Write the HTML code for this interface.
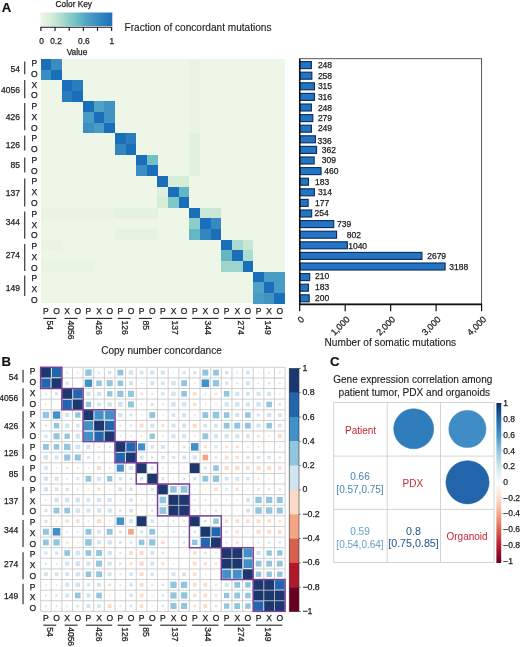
<!DOCTYPE html>
<html><head><meta charset="utf-8"><title>Figure</title>
<style>html,body{margin:0;padding:0;background:#fff}svg{display:block;font-family:'Liberation Sans', sans-serif}</style>
</head><body>
<svg width="520" height="647" viewBox="0 0 520 647" style="font-family:'Liberation Sans',sans-serif">
<rect width="520" height="647" fill="#fff"/>
<g shape-rendering="crispEdges">
<rect x="40.6" y="59.0" width="244.49" height="244.49" fill="#eef6e8"/>
<rect x="40.55" y="58.95" width="10.73" height="10.73" fill="#1a6fba"/>
<rect x="51.18" y="58.95" width="10.73" height="10.73" fill="#3a8cc1"/>
<rect x="189.37" y="58.95" width="10.73" height="10.73" fill="#e9f4e5"/>
<rect x="40.55" y="69.58" width="10.73" height="10.73" fill="#3a8cc1"/>
<rect x="51.18" y="69.58" width="10.73" height="10.73" fill="#1a6fba"/>
<rect x="189.37" y="69.58" width="10.73" height="10.73" fill="#e9f4e5"/>
<rect x="61.81" y="80.21" width="10.73" height="10.73" fill="#1a6fba"/>
<rect x="72.44" y="80.21" width="10.73" height="10.73" fill="#2b7ebc"/>
<rect x="189.37" y="80.21" width="10.73" height="10.73" fill="#e9f4e5"/>
<rect x="61.81" y="90.84" width="10.73" height="10.73" fill="#287bbc"/>
<rect x="72.44" y="90.84" width="10.73" height="10.73" fill="#1a6fba"/>
<rect x="189.37" y="90.84" width="10.73" height="10.73" fill="#e9f4e5"/>
<rect x="83.07" y="101.47" width="10.73" height="10.73" fill="#1a6fba"/>
<rect x="93.70" y="101.47" width="10.73" height="10.73" fill="#4fa2c6"/>
<rect x="104.33" y="101.47" width="10.73" height="10.73" fill="#4193c3"/>
<rect x="189.37" y="101.47" width="10.73" height="10.73" fill="#e9f4e5"/>
<rect x="83.07" y="112.10" width="10.73" height="10.73" fill="#489bc4"/>
<rect x="93.70" y="112.10" width="10.73" height="10.73" fill="#1a6fba"/>
<rect x="104.33" y="112.10" width="10.73" height="10.73" fill="#4193c3"/>
<rect x="189.37" y="112.10" width="10.73" height="10.73" fill="#e9f4e5"/>
<rect x="83.07" y="122.73" width="10.73" height="10.73" fill="#3d8fc2"/>
<rect x="93.70" y="122.73" width="10.73" height="10.73" fill="#489bc4"/>
<rect x="104.33" y="122.73" width="10.73" height="10.73" fill="#1a6fba"/>
<rect x="189.37" y="122.73" width="10.73" height="10.73" fill="#e9f4e5"/>
<rect x="114.96" y="133.36" width="10.73" height="10.73" fill="#1a6fba"/>
<rect x="125.59" y="133.36" width="10.73" height="10.73" fill="#2b7ebc"/>
<rect x="189.37" y="133.36" width="10.73" height="10.73" fill="#e1f1df"/>
<rect x="114.96" y="143.99" width="10.73" height="10.73" fill="#3385be"/>
<rect x="125.59" y="143.99" width="10.73" height="10.73" fill="#1a6fba"/>
<rect x="189.37" y="143.99" width="10.73" height="10.73" fill="#e1f1df"/>
<rect x="136.22" y="154.62" width="10.73" height="10.73" fill="#1a6fba"/>
<rect x="146.85" y="154.62" width="10.73" height="10.73" fill="#70c0c5"/>
<rect x="189.37" y="154.62" width="10.73" height="10.73" fill="#e1f1df"/>
<rect x="136.22" y="165.25" width="10.73" height="10.73" fill="#3a8cc1"/>
<rect x="146.85" y="165.25" width="10.73" height="10.73" fill="#1a6fba"/>
<rect x="189.37" y="165.25" width="10.73" height="10.73" fill="#e1f1df"/>
<rect x="157.48" y="175.88" width="10.73" height="10.73" fill="#1a6fba"/>
<rect x="168.11" y="175.88" width="10.73" height="10.73" fill="#d6edd8"/>
<rect x="178.74" y="175.88" width="10.73" height="10.73" fill="#d6edd8"/>
<rect x="157.48" y="186.51" width="10.73" height="10.73" fill="#def0dd"/>
<rect x="168.11" y="186.51" width="10.73" height="10.73" fill="#1a6fba"/>
<rect x="178.74" y="186.51" width="10.73" height="10.73" fill="#65b6c5"/>
<rect x="157.48" y="197.14" width="10.73" height="10.73" fill="#d6edd8"/>
<rect x="168.11" y="197.14" width="10.73" height="10.73" fill="#7fc7c8"/>
<rect x="178.74" y="197.14" width="10.73" height="10.73" fill="#1a6fba"/>
<rect x="40.55" y="207.77" width="10.73" height="10.73" fill="#e9f4e5"/>
<rect x="51.18" y="207.77" width="10.73" height="10.73" fill="#e9f4e5"/>
<rect x="61.81" y="207.77" width="10.73" height="10.73" fill="#e9f4e5"/>
<rect x="72.44" y="207.77" width="10.73" height="10.73" fill="#e9f4e5"/>
<rect x="83.07" y="207.77" width="10.73" height="10.73" fill="#e9f4e5"/>
<rect x="93.70" y="207.77" width="10.73" height="10.73" fill="#e9f4e5"/>
<rect x="104.33" y="207.77" width="10.73" height="10.73" fill="#e9f4e5"/>
<rect x="114.96" y="207.77" width="10.73" height="10.73" fill="#e3f2e1"/>
<rect x="125.59" y="207.77" width="10.73" height="10.73" fill="#e3f2e1"/>
<rect x="136.22" y="207.77" width="10.73" height="10.73" fill="#e3f2e1"/>
<rect x="146.85" y="207.77" width="10.73" height="10.73" fill="#e3f2e1"/>
<rect x="189.37" y="207.77" width="10.73" height="10.73" fill="#1a6fba"/>
<rect x="200.00" y="207.77" width="10.73" height="10.73" fill="#c8e7d5"/>
<rect x="210.63" y="207.77" width="10.73" height="10.73" fill="#c8e7d5"/>
<rect x="189.37" y="218.40" width="10.73" height="10.73" fill="#8ececa"/>
<rect x="200.00" y="218.40" width="10.73" height="10.73" fill="#1a6fba"/>
<rect x="210.63" y="218.40" width="10.73" height="10.73" fill="#3789c0"/>
<rect x="114.96" y="229.03" width="10.73" height="10.73" fill="#e6f3e3"/>
<rect x="125.59" y="229.03" width="10.73" height="10.73" fill="#e6f3e3"/>
<rect x="136.22" y="229.03" width="10.73" height="10.73" fill="#e6f3e3"/>
<rect x="146.85" y="229.03" width="10.73" height="10.73" fill="#e6f3e3"/>
<rect x="189.37" y="229.03" width="10.73" height="10.73" fill="#65b6c5"/>
<rect x="200.00" y="229.03" width="10.73" height="10.73" fill="#3385be"/>
<rect x="210.63" y="229.03" width="10.73" height="10.73" fill="#1a6fba"/>
<rect x="40.55" y="239.66" width="10.73" height="10.73" fill="#e9f4e5"/>
<rect x="51.18" y="239.66" width="10.73" height="10.73" fill="#e9f4e5"/>
<rect x="221.26" y="239.66" width="10.73" height="10.73" fill="#1a6fba"/>
<rect x="231.89" y="239.66" width="10.73" height="10.73" fill="#acdccf"/>
<rect x="242.52" y="239.66" width="10.73" height="10.73" fill="#c8e7d5"/>
<rect x="221.26" y="250.29" width="10.73" height="10.73" fill="#65b6c5"/>
<rect x="231.89" y="250.29" width="10.73" height="10.73" fill="#1a6fba"/>
<rect x="242.52" y="250.29" width="10.73" height="10.73" fill="#acdccf"/>
<rect x="40.55" y="260.92" width="10.73" height="10.73" fill="#e8f4e4"/>
<rect x="51.18" y="260.92" width="10.73" height="10.73" fill="#e8f4e4"/>
<rect x="61.81" y="260.92" width="10.73" height="10.73" fill="#e8f4e4"/>
<rect x="72.44" y="260.92" width="10.73" height="10.73" fill="#e8f4e4"/>
<rect x="83.07" y="260.92" width="10.73" height="10.73" fill="#e8f4e4"/>
<rect x="221.26" y="260.92" width="10.73" height="10.73" fill="#9dd5cc"/>
<rect x="231.89" y="260.92" width="10.73" height="10.73" fill="#9dd5cc"/>
<rect x="242.52" y="260.92" width="10.73" height="10.73" fill="#1a6fba"/>
<rect x="253.15" y="271.55" width="10.73" height="10.73" fill="#1a6fba"/>
<rect x="263.78" y="271.55" width="10.73" height="10.73" fill="#489bc4"/>
<rect x="274.41" y="271.55" width="10.73" height="10.73" fill="#489bc4"/>
<rect x="253.15" y="282.18" width="10.73" height="10.73" fill="#4fa2c6"/>
<rect x="263.78" y="282.18" width="10.73" height="10.73" fill="#1a6fba"/>
<rect x="274.41" y="282.18" width="10.73" height="10.73" fill="#489bc4"/>
<rect x="253.15" y="292.81" width="10.73" height="10.73" fill="#489bc4"/>
<rect x="263.78" y="292.81" width="10.73" height="10.73" fill="#4193c3"/>
<rect x="274.41" y="292.81" width="10.73" height="10.73" fill="#1a6fba"/>
</g>
<text x="19.90" y="72.00" font-size="8.5" text-anchor="end" fill="#1c1c1c" stroke="#1c1c1c" stroke-width="0.25">54</text>
<line x1="24.75" x2="24.75" y1="61.40" y2="74.20" stroke="#222" stroke-width="1.1"/>
<text x="34.40" y="66.00" font-size="8.5" text-anchor="middle" fill="#1c1c1c" stroke="#1c1c1c" stroke-width="0.25">P</text>
<text x="34.40" y="77.00" font-size="8.5" text-anchor="middle" fill="#1c1c1c" stroke="#1c1c1c" stroke-width="0.25">O</text>
<text x="19.90" y="93.00" font-size="8.5" text-anchor="end" fill="#1c1c1c" stroke="#1c1c1c" stroke-width="0.25">4056</text>
<line x1="24.75" x2="24.75" y1="80.00" y2="98.20" stroke="#222" stroke-width="1.1"/>
<text x="34.40" y="88.00" font-size="8.5" text-anchor="middle" fill="#1c1c1c" stroke="#1c1c1c" stroke-width="0.25">X</text>
<text x="34.40" y="98.00" font-size="8.5" text-anchor="middle" fill="#1c1c1c" stroke="#1c1c1c" stroke-width="0.25">O</text>
<text x="19.90" y="120.00" font-size="8.5" text-anchor="end" fill="#1c1c1c" stroke="#1c1c1c" stroke-width="0.25">426</text>
<line x1="24.75" x2="24.75" y1="103.00" y2="130.30" stroke="#222" stroke-width="1.1"/>
<text x="34.40" y="109.00" font-size="8.5" text-anchor="middle" fill="#1c1c1c" stroke="#1c1c1c" stroke-width="0.25">P</text>
<text x="34.40" y="120.00" font-size="8.5" text-anchor="middle" fill="#1c1c1c" stroke="#1c1c1c" stroke-width="0.25">X</text>
<text x="34.40" y="131.00" font-size="8.5" text-anchor="middle" fill="#1c1c1c" stroke="#1c1c1c" stroke-width="0.25">O</text>
<text x="19.90" y="148.00" font-size="8.5" text-anchor="end" fill="#1c1c1c" stroke="#1c1c1c" stroke-width="0.25">126</text>
<line x1="24.75" x2="24.75" y1="135.50" y2="150.40" stroke="#222" stroke-width="1.1"/>
<text x="34.40" y="141.00" font-size="8.5" text-anchor="middle" fill="#1c1c1c" stroke="#1c1c1c" stroke-width="0.25">P</text>
<text x="34.40" y="152.00" font-size="8.5" text-anchor="middle" fill="#1c1c1c" stroke="#1c1c1c" stroke-width="0.25">O</text>
<text x="19.90" y="168.00" font-size="8.5" text-anchor="end" fill="#1c1c1c" stroke="#1c1c1c" stroke-width="0.25">85</text>
<line x1="24.75" x2="24.75" y1="157.40" y2="172.50" stroke="#222" stroke-width="1.1"/>
<text x="34.40" y="163.00" font-size="8.5" text-anchor="middle" fill="#1c1c1c" stroke="#1c1c1c" stroke-width="0.25">P</text>
<text x="34.40" y="174.00" font-size="8.5" text-anchor="middle" fill="#1c1c1c" stroke="#1c1c1c" stroke-width="0.25">O</text>
<text x="19.90" y="196.00" font-size="8.5" text-anchor="end" fill="#1c1c1c" stroke="#1c1c1c" stroke-width="0.25">137</text>
<line x1="24.75" x2="24.75" y1="178.50" y2="206.60" stroke="#222" stroke-width="1.1"/>
<text x="34.40" y="184.00" font-size="8.5" text-anchor="middle" fill="#1c1c1c" stroke="#1c1c1c" stroke-width="0.25">P</text>
<text x="34.40" y="195.00" font-size="8.5" text-anchor="middle" fill="#1c1c1c" stroke="#1c1c1c" stroke-width="0.25">X</text>
<text x="34.40" y="206.00" font-size="8.5" text-anchor="middle" fill="#1c1c1c" stroke="#1c1c1c" stroke-width="0.25">O</text>
<text x="19.90" y="225.00" font-size="8.5" text-anchor="end" fill="#1c1c1c" stroke="#1c1c1c" stroke-width="0.25">344</text>
<line x1="24.75" x2="24.75" y1="211.60" y2="238.80" stroke="#222" stroke-width="1.1"/>
<text x="34.40" y="217.00" font-size="8.5" text-anchor="middle" fill="#1c1c1c" stroke="#1c1c1c" stroke-width="0.25">P</text>
<text x="34.40" y="228.00" font-size="8.5" text-anchor="middle" fill="#1c1c1c" stroke="#1c1c1c" stroke-width="0.25">X</text>
<text x="34.40" y="238.00" font-size="8.5" text-anchor="middle" fill="#1c1c1c" stroke="#1c1c1c" stroke-width="0.25">O</text>
<text x="19.90" y="258.00" font-size="8.5" text-anchor="end" fill="#1c1c1c" stroke="#1c1c1c" stroke-width="0.25">274</text>
<line x1="24.75" x2="24.75" y1="244.00" y2="270.90" stroke="#222" stroke-width="1.1"/>
<text x="34.40" y="249.00" font-size="8.5" text-anchor="middle" fill="#1c1c1c" stroke="#1c1c1c" stroke-width="0.25">P</text>
<text x="34.40" y="260.00" font-size="8.5" text-anchor="middle" fill="#1c1c1c" stroke="#1c1c1c" stroke-width="0.25">X</text>
<text x="34.40" y="271.00" font-size="8.5" text-anchor="middle" fill="#1c1c1c" stroke="#1c1c1c" stroke-width="0.25">O</text>
<text x="19.90" y="291.00" font-size="8.5" text-anchor="end" fill="#1c1c1c" stroke="#1c1c1c" stroke-width="0.25">149</text>
<line x1="24.75" x2="24.75" y1="275.50" y2="296.00" stroke="#222" stroke-width="1.1"/>
<text x="34.40" y="281.00" font-size="8.5" text-anchor="middle" fill="#1c1c1c" stroke="#1c1c1c" stroke-width="0.25">P</text>
<text x="34.40" y="292.00" font-size="8.5" text-anchor="middle" fill="#1c1c1c" stroke="#1c1c1c" stroke-width="0.25">X</text>
<text x="34.40" y="303.00" font-size="8.5" text-anchor="middle" fill="#1c1c1c" stroke="#1c1c1c" stroke-width="0.25">O</text>
<text x="45.91" y="314.00" font-size="8.5" text-anchor="middle" fill="#1c1c1c" stroke="#1c1c1c" stroke-width="0.25">P</text>
<text x="56.55" y="314.00" font-size="8.5" text-anchor="middle" fill="#1c1c1c" stroke="#1c1c1c" stroke-width="0.25">O</text>
<line x1="43.31" x2="56.25" y1="318.4" y2="318.4" stroke="#222" stroke-width="1.1"/>
<text x="46.83" y="320.60" font-size="8.5" fill="#1c1c1c" stroke="#1c1c1c" stroke-width="0.25" transform="rotate(90 46.83 320.60)">54</text>
<text x="67.18" y="314.00" font-size="8.5" text-anchor="middle" fill="#1c1c1c" stroke="#1c1c1c" stroke-width="0.25">X</text>
<text x="77.81" y="314.00" font-size="8.5" text-anchor="middle" fill="#1c1c1c" stroke="#1c1c1c" stroke-width="0.25">O</text>
<line x1="64.58" x2="77.51" y1="318.4" y2="318.4" stroke="#222" stroke-width="1.1"/>
<text x="67.92" y="320.60" font-size="8.5" fill="#1c1c1c" stroke="#1c1c1c" stroke-width="0.25" transform="rotate(90 67.92 320.60)">4056</text>
<text x="88.44" y="314.00" font-size="8.5" text-anchor="middle" fill="#1c1c1c" stroke="#1c1c1c" stroke-width="0.25">P</text>
<text x="99.06" y="314.00" font-size="8.5" text-anchor="middle" fill="#1c1c1c" stroke="#1c1c1c" stroke-width="0.25">X</text>
<text x="109.69" y="314.00" font-size="8.5" text-anchor="middle" fill="#1c1c1c" stroke="#1c1c1c" stroke-width="0.25">O</text>
<line x1="85.84" x2="112.19" y1="318.4" y2="318.4" stroke="#222" stroke-width="1.1"/>
<text x="96.42" y="320.60" font-size="8.5" fill="#1c1c1c" stroke="#1c1c1c" stroke-width="0.25" transform="rotate(90 96.42 320.60)">426</text>
<text x="120.33" y="314.00" font-size="8.5" text-anchor="middle" fill="#1c1c1c" stroke="#1c1c1c" stroke-width="0.25">P</text>
<text x="130.96" y="314.00" font-size="8.5" text-anchor="middle" fill="#1c1c1c" stroke="#1c1c1c" stroke-width="0.25">O</text>
<line x1="117.73" x2="130.66" y1="318.4" y2="318.4" stroke="#222" stroke-width="1.1"/>
<text x="121.62" y="320.60" font-size="8.5" fill="#1c1c1c" stroke="#1c1c1c" stroke-width="0.25" transform="rotate(90 121.62 320.60)">126</text>
<text x="141.59" y="314.00" font-size="8.5" text-anchor="middle" fill="#1c1c1c" stroke="#1c1c1c" stroke-width="0.25">P</text>
<text x="152.22" y="314.00" font-size="8.5" text-anchor="middle" fill="#1c1c1c" stroke="#1c1c1c" stroke-width="0.25">O</text>
<line x1="138.99" x2="151.91" y1="318.4" y2="318.4" stroke="#222" stroke-width="1.1"/>
<text x="142.72" y="320.60" font-size="8.5" fill="#1c1c1c" stroke="#1c1c1c" stroke-width="0.25" transform="rotate(90 142.72 320.60)">85</text>
<text x="162.84" y="314.00" font-size="8.5" text-anchor="middle" fill="#1c1c1c" stroke="#1c1c1c" stroke-width="0.25">P</text>
<text x="173.47" y="314.00" font-size="8.5" text-anchor="middle" fill="#1c1c1c" stroke="#1c1c1c" stroke-width="0.25">X</text>
<text x="184.11" y="314.00" font-size="8.5" text-anchor="middle" fill="#1c1c1c" stroke="#1c1c1c" stroke-width="0.25">O</text>
<line x1="160.25" x2="186.61" y1="318.4" y2="318.4" stroke="#222" stroke-width="1.1"/>
<text x="171.62" y="320.60" font-size="8.5" fill="#1c1c1c" stroke="#1c1c1c" stroke-width="0.25" transform="rotate(90 171.62 320.60)">137</text>
<text x="194.74" y="314.00" font-size="8.5" text-anchor="middle" fill="#1c1c1c" stroke="#1c1c1c" stroke-width="0.25">P</text>
<text x="205.37" y="314.00" font-size="8.5" text-anchor="middle" fill="#1c1c1c" stroke="#1c1c1c" stroke-width="0.25">X</text>
<text x="216.00" y="314.00" font-size="8.5" text-anchor="middle" fill="#1c1c1c" stroke="#1c1c1c" stroke-width="0.25">O</text>
<line x1="192.14" x2="218.50" y1="318.4" y2="318.4" stroke="#222" stroke-width="1.1"/>
<text x="205.03" y="320.60" font-size="8.5" fill="#1c1c1c" stroke="#1c1c1c" stroke-width="0.25" transform="rotate(90 205.03 320.60)">344</text>
<text x="226.62" y="314.00" font-size="8.5" text-anchor="middle" fill="#1c1c1c" stroke="#1c1c1c" stroke-width="0.25">P</text>
<text x="237.25" y="314.00" font-size="8.5" text-anchor="middle" fill="#1c1c1c" stroke="#1c1c1c" stroke-width="0.25">X</text>
<text x="247.89" y="314.00" font-size="8.5" text-anchor="middle" fill="#1c1c1c" stroke="#1c1c1c" stroke-width="0.25">O</text>
<line x1="224.03" x2="250.39" y1="318.4" y2="318.4" stroke="#222" stroke-width="1.1"/>
<text x="237.62" y="320.60" font-size="8.5" fill="#1c1c1c" stroke="#1c1c1c" stroke-width="0.25" transform="rotate(90 237.62 320.60)">274</text>
<text x="258.52" y="314.00" font-size="8.5" text-anchor="middle" fill="#1c1c1c" stroke="#1c1c1c" stroke-width="0.25">P</text>
<text x="269.15" y="314.00" font-size="8.5" text-anchor="middle" fill="#1c1c1c" stroke="#1c1c1c" stroke-width="0.25">X</text>
<text x="279.78" y="314.00" font-size="8.5" text-anchor="middle" fill="#1c1c1c" stroke="#1c1c1c" stroke-width="0.25">O</text>
<line x1="255.92" x2="282.28" y1="318.4" y2="318.4" stroke="#222" stroke-width="1.1"/>
<text x="265.43" y="320.60" font-size="8.5" fill="#1c1c1c" stroke="#1c1c1c" stroke-width="0.25" transform="rotate(90 265.43 320.60)">149</text>
<text x="1.80" y="12.00" font-size="13.2" font-weight="bold" fill="#111" stroke="#111" stroke-width="0.15">A</text>
<text x="124.50" y="31.00" font-size="10.1" fill="#1c1c1c" stroke="#1c1c1c" stroke-width="0.12">Fraction of concordant mutations</text>
<text x="101.20" y="354.00" font-size="10.05" fill="#1c1c1c" stroke="#1c1c1c" stroke-width="0.12">Copy number concordance</text>
<defs><linearGradient id="gk" x1="0" x2="1" y1="0" y2="0">
<stop offset="0" stop-color="#eef6e8"/>
<stop offset="0.15" stop-color="#d6edd8"/>
<stop offset="0.3" stop-color="#acdccf"/>
<stop offset="0.5" stop-color="#70c0c5"/>
<stop offset="0.65" stop-color="#4fa2c6"/>
<stop offset="0.8" stop-color="#3a8cc1"/>
<stop offset="0.9" stop-color="#2b7ebc"/>
<stop offset="1.0" stop-color="#1a6fba"/>
</linearGradient>
<linearGradient id="gc" x1="0" x2="0" y1="0" y2="1">
<stop offset="0.0" stop-color="#053061"/>
<stop offset="0.1" stop-color="#2166ac"/>
<stop offset="0.2" stop-color="#4393c3"/>
<stop offset="0.3" stop-color="#92c5de"/>
<stop offset="0.4" stop-color="#d1e5f0"/>
<stop offset="0.5" stop-color="#ffffff"/>
<stop offset="0.6" stop-color="#fddbc7"/>
<stop offset="0.7" stop-color="#f4a582"/>
<stop offset="0.8" stop-color="#d6604d"/>
<stop offset="0.9" stop-color="#b2182b"/>
<stop offset="1.0" stop-color="#67001f"/>
</linearGradient></defs>
<rect x="40.3" y="12.5" width="72" height="13.6" fill="url(#gk)"/>
<line x1="40.4" x2="112.2" y1="27.2" y2="27.2" stroke="#111" stroke-width="1.1"/>
<line x1="40.90" x2="40.90" y1="27.2" y2="30.9" stroke="#111" stroke-width="1.1"/>
<line x1="55.05" x2="55.05" y1="27.2" y2="30.9" stroke="#111" stroke-width="1.1"/>
<line x1="69.20" x2="69.20" y1="27.2" y2="30.9" stroke="#111" stroke-width="1.1"/>
<line x1="83.35" x2="83.35" y1="27.2" y2="30.9" stroke="#111" stroke-width="1.1"/>
<line x1="97.50" x2="97.50" y1="27.2" y2="30.9" stroke="#111" stroke-width="1.1"/>
<line x1="111.65" x2="111.65" y1="27.2" y2="30.9" stroke="#111" stroke-width="1.1"/>
<text x="73.80" y="7.00" font-size="8.3" text-anchor="middle" fill="#1c1c1c" stroke="#1c1c1c" stroke-width="0.25">Color Key</text>
<text x="41.50" y="44.00" font-size="8.3" text-anchor="middle" fill="#1c1c1c" stroke="#1c1c1c" stroke-width="0.25">0</text>
<text x="56.00" y="44.00" font-size="8.3" text-anchor="middle" fill="#1c1c1c" stroke="#1c1c1c" stroke-width="0.25">0.2</text>
<text x="83.80" y="44.00" font-size="8.3" text-anchor="middle" fill="#1c1c1c" stroke="#1c1c1c" stroke-width="0.25">0.6</text>
<text x="111.70" y="44.00" font-size="8.3" text-anchor="middle" fill="#1c1c1c" stroke="#1c1c1c" stroke-width="0.25">1</text>
<text x="77.00" y="55.00" font-size="8.3" text-anchor="middle" fill="#1c1c1c" stroke="#1c1c1c" stroke-width="0.25">Value</text>
<rect x="299.7" y="58.7" width="181.90" height="245.60" fill="#fff" stroke="#444" stroke-width="0.9"/>
<rect x="300.10" y="61.60" width="11.28" height="7.0" fill="#2076c4" stroke="#142e5c" stroke-width="1.15"/>
<rect x="300.10" y="72.20" width="11.73" height="7.0" fill="#2076c4" stroke="#142e5c" stroke-width="1.15"/>
<rect x="300.10" y="82.80" width="14.32" height="7.0" fill="#2076c4" stroke="#142e5c" stroke-width="1.15"/>
<rect x="300.10" y="93.40" width="14.37" height="7.0" fill="#2076c4" stroke="#142e5c" stroke-width="1.15"/>
<rect x="300.10" y="104.00" width="11.28" height="7.0" fill="#2076c4" stroke="#142e5c" stroke-width="1.15"/>
<rect x="300.10" y="114.60" width="12.69" height="7.0" fill="#2076c4" stroke="#142e5c" stroke-width="1.15"/>
<rect x="300.10" y="125.20" width="11.32" height="7.0" fill="#2076c4" stroke="#142e5c" stroke-width="1.15"/>
<rect x="300.10" y="135.80" width="15.28" height="7.0" fill="#2076c4" stroke="#142e5c" stroke-width="1.15"/>
<rect x="300.10" y="146.40" width="16.46" height="7.0" fill="#2076c4" stroke="#142e5c" stroke-width="1.15"/>
<rect x="300.10" y="157.00" width="14.05" height="7.0" fill="#2076c4" stroke="#142e5c" stroke-width="1.15"/>
<rect x="300.10" y="167.60" width="20.92" height="7.0" fill="#2076c4" stroke="#142e5c" stroke-width="1.15"/>
<rect x="300.10" y="178.20" width="8.32" height="7.0" fill="#2076c4" stroke="#142e5c" stroke-width="1.15"/>
<rect x="300.10" y="188.80" width="14.28" height="7.0" fill="#2076c4" stroke="#142e5c" stroke-width="1.15"/>
<rect x="300.10" y="199.40" width="8.05" height="7.0" fill="#2076c4" stroke="#142e5c" stroke-width="1.15"/>
<rect x="300.10" y="210.00" width="11.55" height="7.0" fill="#2076c4" stroke="#142e5c" stroke-width="1.15"/>
<rect x="300.10" y="220.60" width="33.61" height="7.0" fill="#2076c4" stroke="#142e5c" stroke-width="1.15"/>
<rect x="300.10" y="231.20" width="36.47" height="7.0" fill="#2076c4" stroke="#142e5c" stroke-width="1.15"/>
<rect x="300.10" y="241.80" width="47.29" height="7.0" fill="#2076c4" stroke="#142e5c" stroke-width="1.15"/>
<rect x="300.10" y="252.40" width="121.83" height="7.0" fill="#2076c4" stroke="#142e5c" stroke-width="1.15"/>
<rect x="300.10" y="263.00" width="144.97" height="7.0" fill="#2076c4" stroke="#142e5c" stroke-width="1.15"/>
<rect x="300.10" y="273.60" width="9.55" height="7.0" fill="#2076c4" stroke="#142e5c" stroke-width="1.15"/>
<rect x="300.10" y="284.20" width="8.32" height="7.0" fill="#2076c4" stroke="#142e5c" stroke-width="1.15"/>
<rect x="300.10" y="294.80" width="9.10" height="7.0" fill="#2076c4" stroke="#142e5c" stroke-width="1.15"/>
<text x="317.90" y="68.00" font-size="8.5" fill="#1c1c1c" stroke="#1c1c1c" stroke-width="0.25">248</text>
<text x="317.90" y="79.00" font-size="8.5" fill="#1c1c1c" stroke="#1c1c1c" stroke-width="0.25">258</text>
<text x="317.90" y="89.00" font-size="8.5" fill="#1c1c1c" stroke="#1c1c1c" stroke-width="0.25">315</text>
<text x="317.90" y="100.00" font-size="8.5" fill="#1c1c1c" stroke="#1c1c1c" stroke-width="0.25">316</text>
<text x="317.90" y="111.00" font-size="8.5" fill="#1c1c1c" stroke="#1c1c1c" stroke-width="0.25">248</text>
<text x="317.90" y="121.00" font-size="8.5" fill="#1c1c1c" stroke="#1c1c1c" stroke-width="0.25">279</text>
<text x="317.90" y="131.00" font-size="8.5" fill="#1c1c1c" stroke="#1c1c1c" stroke-width="0.25">249</text>
<text x="317.50" y="144.00" font-size="8.5" fill="#1c1c1c" stroke="#1c1c1c" stroke-width="0.25">336</text>
<text x="321.70" y="153.00" font-size="8.5" fill="#1c1c1c" stroke="#1c1c1c" stroke-width="0.25">362</text>
<text x="321.70" y="163.00" font-size="8.5" fill="#1c1c1c" stroke="#1c1c1c" stroke-width="0.25">309</text>
<text x="324.20" y="174.00" font-size="8.5" fill="#1c1c1c" stroke="#1c1c1c" stroke-width="0.25">460</text>
<text x="315.00" y="185.00" font-size="8.5" fill="#1c1c1c" stroke="#1c1c1c" stroke-width="0.25">183</text>
<text x="317.90" y="195.00" font-size="8.5" fill="#1c1c1c" stroke="#1c1c1c" stroke-width="0.25">314</text>
<text x="315.00" y="206.00" font-size="8.5" fill="#1c1c1c" stroke="#1c1c1c" stroke-width="0.25">177</text>
<text x="314.60" y="216.00" font-size="8.5" fill="#1c1c1c" stroke="#1c1c1c" stroke-width="0.25">254</text>
<text x="337.10" y="227.00" font-size="8.5" fill="#1c1c1c" stroke="#1c1c1c" stroke-width="0.25">739</text>
<text x="346.80" y="238.00" font-size="8.5" fill="#1c1c1c" stroke="#1c1c1c" stroke-width="0.25">802</text>
<text x="348.20" y="249.00" font-size="8.5" fill="#1c1c1c" stroke="#1c1c1c" stroke-width="0.25">1040</text>
<text x="427.20" y="259.00" font-size="8.5" fill="#1c1c1c" stroke="#1c1c1c" stroke-width="0.25">2679</text>
<text x="449.30" y="270.00" font-size="8.5" fill="#1c1c1c" stroke="#1c1c1c" stroke-width="0.25">3188</text>
<text x="315.00" y="279.00" font-size="8.5" fill="#1c1c1c" stroke="#1c1c1c" stroke-width="0.25">210</text>
<text x="315.00" y="290.00" font-size="8.5" fill="#1c1c1c" stroke="#1c1c1c" stroke-width="0.25">183</text>
<text x="315.00" y="301.00" font-size="8.5" fill="#1c1c1c" stroke="#1c1c1c" stroke-width="0.25">200</text>
<line x1="299.7" x2="299.7" y1="58.7" y2="305.2" stroke="#111" stroke-width="1.5"/>
<line x1="299.0" x2="482.1" y1="304.3" y2="304.3" stroke="#111" stroke-width="1.8"/>
<line x1="299.70" x2="299.70" y1="304.3" y2="311.3" stroke="#111" stroke-width="1.2"/>
<text x="304.90" y="320.00" font-size="9.0" text-anchor="end" fill="#1c1c1c" stroke="#1c1c1c" stroke-width="0.25" transform="rotate(-45 304.90 320.00)">0</text>
<line x1="345.18" x2="345.18" y1="304.3" y2="311.3" stroke="#111" stroke-width="1.2"/>
<text x="350.38" y="320.00" font-size="9.0" text-anchor="end" fill="#1c1c1c" stroke="#1c1c1c" stroke-width="0.25" transform="rotate(-45 350.38 320.00)">1,000</text>
<line x1="390.65" x2="390.65" y1="304.3" y2="311.3" stroke="#111" stroke-width="1.2"/>
<text x="395.85" y="320.00" font-size="9.0" text-anchor="end" fill="#1c1c1c" stroke="#1c1c1c" stroke-width="0.25" transform="rotate(-45 395.85 320.00)">2,000</text>
<line x1="436.12" x2="436.12" y1="304.3" y2="311.3" stroke="#111" stroke-width="1.2"/>
<text x="441.32" y="320.00" font-size="9.0" text-anchor="end" fill="#1c1c1c" stroke="#1c1c1c" stroke-width="0.25" transform="rotate(-45 441.32 320.00)">3,000</text>
<line x1="481.60" x2="481.60" y1="304.3" y2="311.3" stroke="#111" stroke-width="1.2"/>
<text x="486.80" y="320.00" font-size="9.0" text-anchor="end" fill="#1c1c1c" stroke="#1c1c1c" stroke-width="0.25" transform="rotate(-45 486.80 320.00)">4,000</text>
<text x="324.50" y="346.00" font-size="10.15" fill="#1c1c1c" stroke="#1c1c1c" stroke-width="0.12">Number of somatic mutations</text>
<text x="1.40" y="366.00" font-size="13.2" font-weight="bold" fill="#111" stroke="#111" stroke-width="0.15">B</text>
<rect x="40.6" y="367.3" width="244.49" height="244.08" fill="#fff"/>
<path d="M40.60 367.3V611.38M40.6 367.30H285.09M51.23 367.3V611.38M40.6 377.91H285.09M61.86 367.3V611.38M40.6 388.52H285.09M72.49 367.3V611.38M40.6 399.14H285.09M83.12 367.3V611.38M40.6 409.75H285.09M93.75 367.3V611.38M40.6 420.36H285.09M104.38 367.3V611.38M40.6 430.97H285.09M115.01 367.3V611.38M40.6 441.58H285.09M125.64 367.3V611.38M40.6 452.20H285.09M136.27 367.3V611.38M40.6 462.81H285.09M146.90 367.3V611.38M40.6 473.42H285.09M157.53 367.3V611.38M40.6 484.03H285.09M168.16 367.3V611.38M40.6 494.64H285.09M178.79 367.3V611.38M40.6 505.26H285.09M189.42 367.3V611.38M40.6 515.87H285.09M200.05 367.3V611.38M40.6 526.48H285.09M210.68 367.3V611.38M40.6 537.09H285.09M221.31 367.3V611.38M40.6 547.70H285.09M231.94 367.3V611.38M40.6 558.32H285.09M242.57 367.3V611.38M40.6 568.93H285.09M253.20 367.3V611.38M40.6 579.54H285.09M263.83 367.3V611.38M40.6 590.15H285.09M274.46 367.3V611.38M40.6 600.76H285.09M285.09 367.3V611.38M40.6 611.38H285.09" stroke="#c2bfc2" stroke-width="0.75" fill="none"/>
<rect x="40.97" y="367.66" width="9.89" height="9.89" fill="#1c386e"/>
<rect x="51.92" y="367.98" width="9.25" height="9.25" fill="#2166ae"/>
<rect x="66.25" y="371.69" width="1.84" height="1.84" fill="#d1e5f0"/>
<rect x="76.88" y="371.69" width="1.84" height="1.84" fill="#fddbc7"/>
<rect x="85.25" y="369.42" width="6.38" height="6.38" fill="#92c5de"/>
<rect x="98.00" y="371.54" width="2.13" height="2.13" fill="#d1e5f0"/>
<rect x="108.01" y="370.93" width="3.36" height="3.36" fill="#d1e5f0"/>
<rect x="117.41" y="369.69" width="5.82" height="5.82" fill="#92c5de"/>
<rect x="128.70" y="370.35" width="4.51" height="4.51" fill="#d1e5f0"/>
<rect x="139.74" y="370.76" width="3.68" height="3.68" fill="#d1e5f0"/>
<rect x="150.09" y="370.48" width="4.25" height="4.25" fill="#d1e5f0"/>
<rect x="160.79" y="370.55" width="4.12" height="4.12" fill="#d1e5f0"/>
<rect x="172.72" y="371.85" width="1.50" height="1.50" fill="#d1e5f0"/>
<rect x="182.60" y="371.10" width="3.01" height="3.01" fill="#d1e5f0"/>
<rect x="193.23" y="371.10" width="3.01" height="3.01" fill="#d1e5f0"/>
<rect x="202.36" y="369.60" width="6.01" height="6.01" fill="#92c5de"/>
<rect x="213.08" y="369.69" width="5.82" height="5.82" fill="#92c5de"/>
<rect x="224.94" y="370.93" width="3.36" height="3.36" fill="#d1e5f0"/>
<rect x="236.33" y="371.69" width="1.84" height="1.84" fill="#d1e5f0"/>
<rect x="245.97" y="370.69" width="3.83" height="3.83" fill="#d1e5f0"/>
<rect x="257.76" y="371.85" width="1.50" height="1.50" fill="#d1e5f0"/>
<rect x="268.22" y="371.69" width="1.84" height="1.84" fill="#d1e5f0"/>
<rect x="278.85" y="371.69" width="1.84" height="1.84" fill="#d1e5f0"/>
<rect x="41.29" y="378.59" width="9.25" height="9.25" fill="#2166ae"/>
<rect x="51.60" y="378.28" width="9.89" height="9.89" fill="#1c386e"/>
<rect x="65.58" y="381.62" width="3.19" height="3.19" fill="#d1e5f0"/>
<rect x="84.75" y="379.54" width="7.36" height="7.36" fill="#4191c8"/>
<rect x="96.30" y="380.46" width="5.52" height="5.52" fill="#92c5de"/>
<rect x="106.64" y="380.16" width="6.11" height="6.11" fill="#92c5de"/>
<rect x="117.56" y="380.46" width="5.52" height="5.52" fill="#92c5de"/>
<rect x="128.90" y="381.16" width="4.12" height="4.12" fill="#d1e5f0"/>
<rect x="140.83" y="382.47" width="1.50" height="1.50" fill="#d1e5f0"/>
<rect x="150.16" y="381.16" width="4.12" height="4.12" fill="#d1e5f0"/>
<rect x="161.00" y="381.38" width="3.68" height="3.68" fill="#d1e5f0"/>
<rect x="171.22" y="380.96" width="4.51" height="4.51" fill="#d1e5f0"/>
<rect x="181.19" y="380.31" width="5.82" height="5.82" fill="#92c5de"/>
<rect x="193.98" y="382.47" width="1.50" height="1.50" fill="#fddbc7"/>
<rect x="201.61" y="379.46" width="7.52" height="7.52" fill="#4191c8"/>
<rect x="212.85" y="380.07" width="6.29" height="6.29" fill="#92c5de"/>
<rect x="224.94" y="381.54" width="3.36" height="3.36" fill="#d1e5f0"/>
<rect x="236.33" y="382.30" width="1.84" height="1.84" fill="#d1e5f0"/>
<rect x="245.90" y="381.23" width="3.98" height="3.98" fill="#d1e5f0"/>
<rect x="257.76" y="382.47" width="1.50" height="1.50" fill="#d1e5f0"/>
<rect x="267.96" y="382.03" width="2.38" height="2.38" fill="#d1e5f0"/>
<rect x="278.85" y="382.30" width="1.84" height="1.84" fill="#d1e5f0"/>
<rect x="44.99" y="392.91" width="1.84" height="1.84" fill="#d1e5f0"/>
<rect x="54.95" y="392.24" width="3.19" height="3.19" fill="#d1e5f0"/>
<rect x="62.23" y="388.89" width="9.89" height="9.89" fill="#1c386e"/>
<rect x="73.18" y="389.21" width="9.25" height="9.25" fill="#2166ae"/>
<rect x="86.31" y="391.70" width="4.25" height="4.25" fill="#d1e5f0"/>
<rect x="96.94" y="391.70" width="4.25" height="4.25" fill="#d1e5f0"/>
<rect x="107.04" y="391.17" width="5.32" height="5.32" fill="#92c5de"/>
<rect x="117.18" y="390.69" width="6.29" height="6.29" fill="#92c5de"/>
<rect x="127.90" y="390.78" width="6.11" height="6.11" fill="#92c5de"/>
<rect x="140.40" y="392.64" width="2.38" height="2.38" fill="#fddbc7"/>
<rect x="151.29" y="392.91" width="1.84" height="1.84" fill="#d1e5f0"/>
<rect x="161.16" y="392.15" width="3.36" height="3.36" fill="#d1e5f0"/>
<rect x="171.22" y="391.58" width="4.51" height="4.51" fill="#d1e5f0"/>
<rect x="181.29" y="391.02" width="5.62" height="5.62" fill="#92c5de"/>
<rect x="193.05" y="392.15" width="3.36" height="3.36" fill="#fddbc7"/>
<rect x="204.44" y="392.91" width="1.84" height="1.84" fill="#d1e5f0"/>
<rect x="214.81" y="392.64" width="2.38" height="2.38" fill="#fddbc7"/>
<rect x="223.81" y="391.02" width="5.62" height="5.62" fill="#92c5de"/>
<rect x="235.20" y="391.77" width="4.12" height="4.12" fill="#d1e5f0"/>
<rect x="245.97" y="391.91" width="3.83" height="3.83" fill="#d1e5f0"/>
<rect x="256.46" y="391.77" width="4.12" height="4.12" fill="#d1e5f0"/>
<rect x="267.16" y="391.84" width="3.98" height="3.98" fill="#d1e5f0"/>
<rect x="279.02" y="393.08" width="1.50" height="1.50" fill="#d1e5f0"/>
<rect x="44.99" y="403.52" width="1.84" height="1.84" fill="#fddbc7"/>
<rect x="62.55" y="399.82" width="9.25" height="9.25" fill="#2166ae"/>
<rect x="72.86" y="399.50" width="9.89" height="9.89" fill="#1c386e"/>
<rect x="85.78" y="401.78" width="5.32" height="5.32" fill="#92c5de"/>
<rect x="97.22" y="402.60" width="3.68" height="3.68" fill="#d1e5f0"/>
<rect x="107.44" y="402.19" width="4.51" height="4.51" fill="#d1e5f0"/>
<rect x="117.95" y="402.07" width="4.75" height="4.75" fill="#d1e5f0"/>
<rect x="127.95" y="401.44" width="6.01" height="6.01" fill="#92c5de"/>
<rect x="140.66" y="403.52" width="1.84" height="1.84" fill="#fddbc7"/>
<rect x="150.71" y="402.94" width="3.01" height="3.01" fill="#d1e5f0"/>
<rect x="161.92" y="403.52" width="1.84" height="1.84" fill="#d1e5f0"/>
<rect x="171.22" y="402.19" width="4.51" height="4.51" fill="#d1e5f0"/>
<rect x="181.85" y="402.19" width="4.51" height="4.51" fill="#d1e5f0"/>
<rect x="193.05" y="402.76" width="3.36" height="3.36" fill="#fddbc7"/>
<rect x="204.61" y="403.69" width="1.50" height="1.50" fill="#d1e5f0"/>
<rect x="215.24" y="403.69" width="1.50" height="1.50" fill="#fddbc7"/>
<rect x="224.43" y="402.25" width="4.38" height="4.38" fill="#d1e5f0"/>
<rect x="234.94" y="402.13" width="4.63" height="4.63" fill="#d1e5f0"/>
<rect x="245.76" y="402.32" width="4.25" height="4.25" fill="#d1e5f0"/>
<rect x="256.26" y="402.19" width="4.51" height="4.51" fill="#d1e5f0"/>
<rect x="266.33" y="401.63" width="5.62" height="5.62" fill="#92c5de"/>
<rect x="278.47" y="403.14" width="2.60" height="2.60" fill="#d1e5f0"/>
<rect x="42.73" y="411.87" width="6.38" height="6.38" fill="#92c5de"/>
<rect x="52.86" y="411.37" width="7.36" height="7.36" fill="#4191c8"/>
<rect x="65.05" y="412.93" width="4.25" height="4.25" fill="#d1e5f0"/>
<rect x="75.15" y="412.40" width="5.32" height="5.32" fill="#92c5de"/>
<rect x="83.49" y="410.11" width="9.89" height="9.89" fill="#1c386e"/>
<rect x="94.49" y="410.48" width="9.14" height="9.14" fill="#4191c8"/>
<rect x="105.12" y="410.48" width="9.14" height="9.14" fill="#4191c8"/>
<rect x="118.27" y="413.00" width="4.12" height="4.12" fill="#d1e5f0"/>
<rect x="129.45" y="413.55" width="3.01" height="3.01" fill="#d1e5f0"/>
<rect x="140.83" y="414.30" width="1.50" height="1.50" fill="#d1e5f0"/>
<rect x="149.30" y="412.14" width="5.82" height="5.82" fill="#92c5de"/>
<rect x="162.09" y="414.30" width="1.50" height="1.50" fill="#fddbc7"/>
<rect x="171.63" y="413.21" width="3.68" height="3.68" fill="#d1e5f0"/>
<rect x="182.05" y="413.00" width="4.12" height="4.12" fill="#d1e5f0"/>
<rect x="193.81" y="414.13" width="1.84" height="1.84" fill="#fddbc7"/>
<rect x="202.45" y="412.14" width="5.82" height="5.82" fill="#92c5de"/>
<rect x="212.72" y="411.78" width="6.55" height="6.55" fill="#92c5de"/>
<rect x="223.81" y="412.24" width="5.62" height="5.62" fill="#92c5de"/>
<rect x="235.20" y="413.00" width="4.12" height="4.12" fill="#d1e5f0"/>
<rect x="245.12" y="412.29" width="5.52" height="5.52" fill="#92c5de"/>
<rect x="257.01" y="413.55" width="3.01" height="3.01" fill="#d1e5f0"/>
<rect x="267.02" y="412.93" width="4.25" height="4.25" fill="#d1e5f0"/>
<rect x="277.86" y="413.14" width="3.83" height="3.83" fill="#d1e5f0"/>
<rect x="44.85" y="424.60" width="2.13" height="2.13" fill="#d1e5f0"/>
<rect x="53.78" y="422.90" width="5.52" height="5.52" fill="#92c5de"/>
<rect x="65.05" y="423.54" width="4.25" height="4.25" fill="#d1e5f0"/>
<rect x="75.96" y="423.82" width="3.68" height="3.68" fill="#d1e5f0"/>
<rect x="83.86" y="421.10" width="9.14" height="9.14" fill="#4191c8"/>
<rect x="94.12" y="420.72" width="9.89" height="9.89" fill="#1c386e"/>
<rect x="105.02" y="420.99" width="9.35" height="9.35" fill="#2166ae"/>
<rect x="119.40" y="424.75" width="1.84" height="1.84" fill="#fddbc7"/>
<rect x="129.89" y="424.60" width="2.13" height="2.13" fill="#d1e5f0"/>
<rect x="139.53" y="423.61" width="4.12" height="4.12" fill="#fddbc7"/>
<rect x="150.16" y="423.61" width="4.12" height="4.12" fill="#d1e5f0"/>
<rect x="161.34" y="424.16" width="3.01" height="3.01" fill="#fddbc7"/>
<rect x="171.49" y="423.68" width="3.98" height="3.98" fill="#d1e5f0"/>
<rect x="182.05" y="423.61" width="4.12" height="4.12" fill="#d1e5f0"/>
<rect x="192.68" y="423.61" width="4.12" height="4.12" fill="#fddbc7"/>
<rect x="203.52" y="423.82" width="3.68" height="3.68" fill="#d1e5f0"/>
<rect x="214.08" y="423.75" width="3.83" height="3.83" fill="#d1e5f0"/>
<rect x="223.71" y="422.75" width="5.82" height="5.82" fill="#92c5de"/>
<rect x="234.25" y="422.66" width="6.01" height="6.01" fill="#92c5de"/>
<rect x="244.97" y="422.75" width="5.82" height="5.82" fill="#92c5de"/>
<rect x="256.53" y="423.68" width="3.98" height="3.98" fill="#d1e5f0"/>
<rect x="266.38" y="422.90" width="5.52" height="5.52" fill="#92c5de"/>
<rect x="277.93" y="423.82" width="3.68" height="3.68" fill="#d1e5f0"/>
<rect x="44.23" y="434.60" width="3.36" height="3.36" fill="#d1e5f0"/>
<rect x="53.49" y="433.22" width="6.11" height="6.11" fill="#92c5de"/>
<rect x="64.52" y="433.62" width="5.32" height="5.32" fill="#92c5de"/>
<rect x="75.55" y="434.02" width="4.51" height="4.51" fill="#d1e5f0"/>
<rect x="83.86" y="431.71" width="9.14" height="9.14" fill="#4191c8"/>
<rect x="94.39" y="431.60" width="9.35" height="9.35" fill="#2166ae"/>
<rect x="104.75" y="431.34" width="9.89" height="9.89" fill="#1c386e"/>
<rect x="119.57" y="435.53" width="1.50" height="1.50" fill="#d1e5f0"/>
<rect x="130.20" y="435.53" width="1.50" height="1.50" fill="#fddbc7"/>
<rect x="140.66" y="435.36" width="1.84" height="1.84" fill="#fddbc7"/>
<rect x="149.56" y="433.62" width="5.32" height="5.32" fill="#92c5de"/>
<rect x="162.09" y="435.53" width="1.50" height="1.50" fill="#d1e5f0"/>
<rect x="171.42" y="434.22" width="4.12" height="4.12" fill="#d1e5f0"/>
<rect x="181.98" y="434.15" width="4.25" height="4.25" fill="#d1e5f0"/>
<rect x="193.81" y="435.36" width="1.84" height="1.84" fill="#fddbc7"/>
<rect x="202.45" y="433.37" width="5.82" height="5.82" fill="#92c5de"/>
<rect x="213.80" y="434.09" width="4.38" height="4.38" fill="#d1e5f0"/>
<rect x="224.43" y="434.09" width="4.38" height="4.38" fill="#d1e5f0"/>
<rect x="235.20" y="434.22" width="4.12" height="4.12" fill="#d1e5f0"/>
<rect x="245.97" y="434.36" width="3.83" height="3.83" fill="#d1e5f0"/>
<rect x="257.11" y="434.87" width="2.81" height="2.81" fill="#fddbc7"/>
<rect x="268.39" y="435.53" width="1.50" height="1.50" fill="#fddbc7"/>
<rect x="277.86" y="434.36" width="3.83" height="3.83" fill="#fddbc7"/>
<rect x="43.00" y="443.98" width="5.82" height="5.82" fill="#92c5de"/>
<rect x="53.78" y="444.13" width="5.52" height="5.52" fill="#92c5de"/>
<rect x="64.03" y="443.75" width="6.29" height="6.29" fill="#92c5de"/>
<rect x="75.43" y="444.51" width="4.75" height="4.75" fill="#d1e5f0"/>
<rect x="86.38" y="444.83" width="4.12" height="4.12" fill="#d1e5f0"/>
<rect x="98.14" y="445.97" width="1.84" height="1.84" fill="#fddbc7"/>
<rect x="108.94" y="446.14" width="1.50" height="1.50" fill="#d1e5f0"/>
<rect x="115.38" y="441.95" width="9.89" height="9.89" fill="#1c386e"/>
<rect x="126.33" y="442.27" width="9.25" height="9.25" fill="#2166ae"/>
<rect x="138.02" y="443.32" width="7.13" height="7.13" fill="#4191c8"/>
<rect x="150.53" y="445.21" width="3.36" height="3.36" fill="#d1e5f0"/>
<rect x="160.93" y="444.97" width="3.83" height="3.83" fill="#d1e5f0"/>
<rect x="172.72" y="446.14" width="1.50" height="1.50" fill="#d1e5f0"/>
<rect x="182.80" y="445.59" width="2.60" height="2.60" fill="#d1e5f0"/>
<rect x="190.98" y="443.13" width="7.52" height="7.52" fill="#4191c8"/>
<rect x="203.96" y="445.48" width="2.81" height="2.81" fill="#fddbc7"/>
<rect x="214.49" y="445.39" width="3.01" height="3.01" fill="#d1e5f0"/>
<rect x="225.44" y="445.70" width="2.38" height="2.38" fill="#fddbc7"/>
<rect x="235.95" y="445.59" width="2.60" height="2.60" fill="#fddbc7"/>
<rect x="246.96" y="445.97" width="1.84" height="1.84" fill="#d1e5f0"/>
<rect x="257.59" y="445.97" width="1.84" height="1.84" fill="#fddbc7"/>
<rect x="268.61" y="446.36" width="1.06" height="1.06" fill="#fddbc7"/>
<rect x="279.02" y="446.14" width="1.50" height="1.50" fill="#d1e5f0"/>
<rect x="43.66" y="455.25" width="4.51" height="4.51" fill="#d1e5f0"/>
<rect x="54.49" y="455.44" width="4.12" height="4.12" fill="#d1e5f0"/>
<rect x="64.12" y="454.45" width="6.11" height="6.11" fill="#92c5de"/>
<rect x="74.80" y="454.50" width="6.01" height="6.01" fill="#92c5de"/>
<rect x="86.93" y="456.00" width="3.01" height="3.01" fill="#d1e5f0"/>
<rect x="98.00" y="456.44" width="2.13" height="2.13" fill="#d1e5f0"/>
<rect x="108.94" y="456.75" width="1.50" height="1.50" fill="#fddbc7"/>
<rect x="115.70" y="452.88" width="9.25" height="9.25" fill="#2166ae"/>
<rect x="126.01" y="452.56" width="9.89" height="9.89" fill="#1c386e"/>
<rect x="139.60" y="455.51" width="3.98" height="3.98" fill="#d1e5f0"/>
<rect x="151.03" y="456.31" width="2.38" height="2.38" fill="#d1e5f0"/>
<rect x="161.16" y="455.82" width="3.36" height="3.36" fill="#d1e5f0"/>
<rect x="171.79" y="455.82" width="3.36" height="3.36" fill="#d1e5f0"/>
<rect x="182.19" y="455.59" width="3.83" height="3.83" fill="#d1e5f0"/>
<rect x="192.68" y="455.44" width="4.12" height="4.12" fill="#d1e5f0"/>
<rect x="202.55" y="454.69" width="5.62" height="5.62" fill="#f4a582"/>
<rect x="214.81" y="456.31" width="2.38" height="2.38" fill="#d1e5f0"/>
<rect x="224.71" y="455.59" width="3.83" height="3.83" fill="#fddbc7"/>
<rect x="235.75" y="456.00" width="3.01" height="3.01" fill="#fddbc7"/>
<rect x="246.20" y="455.82" width="3.36" height="3.36" fill="#d1e5f0"/>
<rect x="256.83" y="455.82" width="3.36" height="3.36" fill="#d1e5f0"/>
<rect x="267.46" y="455.82" width="3.36" height="3.36" fill="#d1e5f0"/>
<rect x="278.59" y="456.31" width="2.38" height="2.38" fill="#d1e5f0"/>
<rect x="44.07" y="466.27" width="3.68" height="3.68" fill="#d1e5f0"/>
<rect x="55.79" y="467.36" width="1.50" height="1.50" fill="#d1e5f0"/>
<rect x="65.99" y="466.93" width="2.38" height="2.38" fill="#fddbc7"/>
<rect x="76.88" y="467.19" width="1.84" height="1.84" fill="#fddbc7"/>
<rect x="87.68" y="467.36" width="1.50" height="1.50" fill="#d1e5f0"/>
<rect x="97.01" y="466.06" width="4.12" height="4.12" fill="#fddbc7"/>
<rect x="108.77" y="467.19" width="1.84" height="1.84" fill="#fddbc7"/>
<rect x="116.76" y="464.55" width="7.13" height="7.13" fill="#4191c8"/>
<rect x="128.97" y="466.13" width="3.98" height="3.98" fill="#d1e5f0"/>
<rect x="136.64" y="463.17" width="9.89" height="9.89" fill="#1c386e"/>
<rect x="150.53" y="466.43" width="3.36" height="3.36" fill="#d1e5f0"/>
<rect x="162.09" y="467.36" width="1.50" height="1.50" fill="#d1e5f0"/>
<rect x="172.72" y="467.36" width="1.50" height="1.50" fill="#fddbc7"/>
<rect x="183.35" y="467.36" width="1.50" height="1.50" fill="#fddbc7"/>
<rect x="189.83" y="463.21" width="9.80" height="9.80" fill="#1c386e"/>
<rect x="203.96" y="466.71" width="2.81" height="2.81" fill="#d1e5f0"/>
<rect x="213.23" y="465.35" width="5.52" height="5.52" fill="#92c5de"/>
<rect x="224.64" y="466.13" width="3.98" height="3.98" fill="#fddbc7"/>
<rect x="235.06" y="465.92" width="4.38" height="4.38" fill="#fddbc7"/>
<rect x="245.97" y="466.20" width="3.83" height="3.83" fill="#fddbc7"/>
<rect x="256.60" y="466.20" width="3.83" height="3.83" fill="#fddbc7"/>
<rect x="267.23" y="466.20" width="3.83" height="3.83" fill="#fddbc7"/>
<rect x="278.09" y="466.43" width="3.36" height="3.36" fill="#fddbc7"/>
<rect x="43.79" y="476.60" width="4.25" height="4.25" fill="#d1e5f0"/>
<rect x="54.49" y="476.67" width="4.12" height="4.12" fill="#d1e5f0"/>
<rect x="66.25" y="477.81" width="1.84" height="1.84" fill="#d1e5f0"/>
<rect x="76.30" y="477.22" width="3.01" height="3.01" fill="#d1e5f0"/>
<rect x="85.52" y="475.81" width="5.82" height="5.82" fill="#92c5de"/>
<rect x="97.01" y="476.67" width="4.12" height="4.12" fill="#d1e5f0"/>
<rect x="107.04" y="476.07" width="5.32" height="5.32" fill="#92c5de"/>
<rect x="118.64" y="477.05" width="3.36" height="3.36" fill="#d1e5f0"/>
<rect x="129.77" y="477.54" width="2.38" height="2.38" fill="#d1e5f0"/>
<rect x="139.90" y="477.05" width="3.36" height="3.36" fill="#d1e5f0"/>
<rect x="147.27" y="473.78" width="9.89" height="9.89" fill="#1c386e"/>
<rect x="161.34" y="477.22" width="3.01" height="3.01" fill="#d1e5f0"/>
<rect x="172.72" y="477.97" width="1.50" height="1.50" fill="#d1e5f0"/>
<rect x="182.92" y="477.54" width="2.38" height="2.38" fill="#d1e5f0"/>
<rect x="193.05" y="477.05" width="3.36" height="3.36" fill="#d1e5f0"/>
<rect x="202.45" y="475.81" width="5.82" height="5.82" fill="#92c5de"/>
<rect x="212.85" y="475.58" width="6.29" height="6.29" fill="#92c5de"/>
<rect x="224.71" y="476.81" width="3.83" height="3.83" fill="#d1e5f0"/>
<rect x="235.27" y="476.74" width="3.98" height="3.98" fill="#d1e5f0"/>
<rect x="246.20" y="477.05" width="3.36" height="3.36" fill="#d1e5f0"/>
<rect x="257.45" y="477.66" width="2.13" height="2.13" fill="#fddbc7"/>
<rect x="268.39" y="477.97" width="1.50" height="1.50" fill="#fddbc7"/>
<rect x="279.24" y="478.19" width="1.06" height="1.06" fill="#d1e5f0"/>
<rect x="43.86" y="487.28" width="4.12" height="4.12" fill="#d1e5f0"/>
<rect x="54.70" y="487.50" width="3.68" height="3.68" fill="#d1e5f0"/>
<rect x="65.49" y="487.66" width="3.36" height="3.36" fill="#d1e5f0"/>
<rect x="76.88" y="488.42" width="1.84" height="1.84" fill="#d1e5f0"/>
<rect x="87.68" y="488.59" width="1.50" height="1.50" fill="#fddbc7"/>
<rect x="97.56" y="487.83" width="3.01" height="3.01" fill="#fddbc7"/>
<rect x="108.94" y="488.59" width="1.50" height="1.50" fill="#d1e5f0"/>
<rect x="118.41" y="487.42" width="3.83" height="3.83" fill="#d1e5f0"/>
<rect x="129.27" y="487.66" width="3.36" height="3.36" fill="#d1e5f0"/>
<rect x="140.83" y="488.59" width="1.50" height="1.50" fill="#d1e5f0"/>
<rect x="150.71" y="487.83" width="3.01" height="3.01" fill="#d1e5f0"/>
<rect x="157.90" y="484.40" width="9.89" height="9.89" fill="#1c386e"/>
<rect x="170.18" y="486.04" width="6.59" height="6.59" fill="#92c5de"/>
<rect x="180.65" y="485.88" width="6.91" height="6.91" fill="#92c5de"/>
<rect x="193.98" y="488.59" width="1.50" height="1.50" fill="#d1e5f0"/>
<rect x="204.61" y="488.59" width="1.50" height="1.50" fill="#fddbc7"/>
<rect x="214.31" y="487.66" width="3.36" height="3.36" fill="#fddbc7"/>
<rect x="225.44" y="488.15" width="2.38" height="2.38" fill="#d1e5f0"/>
<rect x="235.75" y="487.83" width="3.01" height="3.01" fill="#fddbc7"/>
<rect x="247.13" y="488.59" width="1.50" height="1.50" fill="#d1e5f0"/>
<rect x="257.33" y="488.15" width="2.38" height="2.38" fill="#d1e5f0"/>
<rect x="267.96" y="488.15" width="2.38" height="2.38" fill="#d1e5f0"/>
<rect x="278.59" y="488.15" width="2.38" height="2.38" fill="#d1e5f0"/>
<rect x="45.16" y="499.20" width="1.50" height="1.50" fill="#d1e5f0"/>
<rect x="54.29" y="497.70" width="4.51" height="4.51" fill="#d1e5f0"/>
<rect x="64.92" y="497.70" width="4.51" height="4.51" fill="#d1e5f0"/>
<rect x="75.55" y="497.70" width="4.51" height="4.51" fill="#d1e5f0"/>
<rect x="86.59" y="498.11" width="3.68" height="3.68" fill="#d1e5f0"/>
<rect x="97.08" y="497.96" width="3.98" height="3.98" fill="#d1e5f0"/>
<rect x="107.64" y="497.89" width="4.12" height="4.12" fill="#d1e5f0"/>
<rect x="119.57" y="499.20" width="1.50" height="1.50" fill="#d1e5f0"/>
<rect x="129.27" y="498.27" width="3.36" height="3.36" fill="#d1e5f0"/>
<rect x="140.83" y="499.20" width="1.50" height="1.50" fill="#fddbc7"/>
<rect x="151.46" y="499.20" width="1.50" height="1.50" fill="#d1e5f0"/>
<rect x="159.55" y="496.65" width="6.59" height="6.59" fill="#92c5de"/>
<rect x="168.53" y="495.01" width="9.89" height="9.89" fill="#1c386e"/>
<rect x="179.16" y="495.01" width="9.89" height="9.89" fill="#1c386e"/>
<rect x="193.81" y="499.03" width="1.84" height="1.84" fill="#d1e5f0"/>
<rect x="204.44" y="499.03" width="1.84" height="1.84" fill="#d1e5f0"/>
<rect x="215.24" y="499.20" width="1.50" height="1.50" fill="#d1e5f0"/>
<rect x="225.87" y="499.20" width="1.50" height="1.50" fill="#d1e5f0"/>
<rect x="236.50" y="499.20" width="1.50" height="1.50" fill="#d1e5f0"/>
<rect x="245.97" y="498.03" width="3.83" height="3.83" fill="#d1e5f0"/>
<rect x="255.37" y="496.81" width="6.29" height="6.29" fill="#92c5de"/>
<rect x="266.00" y="496.81" width="6.29" height="6.29" fill="#92c5de"/>
<rect x="276.77" y="496.94" width="6.01" height="6.01" fill="#92c5de"/>
<rect x="44.41" y="509.06" width="3.01" height="3.01" fill="#d1e5f0"/>
<rect x="53.63" y="507.65" width="5.82" height="5.82" fill="#92c5de"/>
<rect x="64.36" y="507.75" width="5.62" height="5.62" fill="#92c5de"/>
<rect x="75.55" y="508.31" width="4.51" height="4.51" fill="#d1e5f0"/>
<rect x="86.38" y="508.50" width="4.12" height="4.12" fill="#d1e5f0"/>
<rect x="97.01" y="508.50" width="4.12" height="4.12" fill="#d1e5f0"/>
<rect x="107.57" y="508.44" width="4.25" height="4.25" fill="#d1e5f0"/>
<rect x="119.02" y="509.26" width="2.60" height="2.60" fill="#d1e5f0"/>
<rect x="129.04" y="508.65" width="3.83" height="3.83" fill="#d1e5f0"/>
<rect x="140.83" y="509.81" width="1.50" height="1.50" fill="#fddbc7"/>
<rect x="151.03" y="509.37" width="2.38" height="2.38" fill="#d1e5f0"/>
<rect x="159.39" y="507.11" width="6.91" height="6.91" fill="#92c5de"/>
<rect x="168.53" y="505.62" width="9.89" height="9.89" fill="#1c386e"/>
<rect x="179.16" y="505.62" width="9.89" height="9.89" fill="#1c386e"/>
<rect x="193.81" y="509.64" width="1.84" height="1.84" fill="#d1e5f0"/>
<rect x="204.44" y="509.64" width="1.84" height="1.84" fill="#d1e5f0"/>
<rect x="214.81" y="509.37" width="2.38" height="2.38" fill="#d1e5f0"/>
<rect x="226.09" y="510.03" width="1.06" height="1.06" fill="#d1e5f0"/>
<rect x="236.72" y="510.03" width="1.06" height="1.06" fill="#d1e5f0"/>
<rect x="245.97" y="508.65" width="3.83" height="3.83" fill="#d1e5f0"/>
<rect x="255.33" y="507.37" width="6.38" height="6.38" fill="#92c5de"/>
<rect x="265.96" y="507.37" width="6.38" height="6.38" fill="#92c5de"/>
<rect x="276.77" y="507.56" width="6.01" height="6.01" fill="#92c5de"/>
<rect x="44.41" y="519.67" width="3.01" height="3.01" fill="#d1e5f0"/>
<rect x="55.79" y="520.42" width="1.50" height="1.50" fill="#fddbc7"/>
<rect x="65.49" y="519.49" width="3.36" height="3.36" fill="#fddbc7"/>
<rect x="76.12" y="519.49" width="3.36" height="3.36" fill="#fddbc7"/>
<rect x="87.51" y="520.25" width="1.84" height="1.84" fill="#fddbc7"/>
<rect x="97.01" y="519.12" width="4.12" height="4.12" fill="#fddbc7"/>
<rect x="108.77" y="520.25" width="1.84" height="1.84" fill="#fddbc7"/>
<rect x="116.57" y="517.42" width="7.52" height="7.52" fill="#4191c8"/>
<rect x="128.90" y="519.12" width="4.12" height="4.12" fill="#d1e5f0"/>
<rect x="136.68" y="516.27" width="9.80" height="9.80" fill="#1c386e"/>
<rect x="150.53" y="519.49" width="3.36" height="3.36" fill="#d1e5f0"/>
<rect x="162.09" y="520.42" width="1.50" height="1.50" fill="#d1e5f0"/>
<rect x="172.55" y="520.25" width="1.84" height="1.84" fill="#d1e5f0"/>
<rect x="183.18" y="520.25" width="1.84" height="1.84" fill="#d1e5f0"/>
<rect x="189.79" y="516.23" width="9.89" height="9.89" fill="#1c386e"/>
<rect x="204.06" y="519.87" width="2.60" height="2.60" fill="#d1e5f0"/>
<rect x="213.23" y="518.41" width="5.52" height="5.52" fill="#92c5de"/>
<rect x="224.94" y="519.49" width="3.36" height="3.36" fill="#fddbc7"/>
<rect x="235.34" y="519.26" width="3.83" height="3.83" fill="#fddbc7"/>
<rect x="246.20" y="519.49" width="3.36" height="3.36" fill="#fddbc7"/>
<rect x="256.60" y="519.26" width="3.83" height="3.83" fill="#fddbc7"/>
<rect x="267.46" y="519.49" width="3.36" height="3.36" fill="#fddbc7"/>
<rect x="278.59" y="519.99" width="2.38" height="2.38" fill="#fddbc7"/>
<rect x="42.91" y="528.78" width="6.01" height="6.01" fill="#92c5de"/>
<rect x="52.79" y="528.03" width="7.52" height="7.52" fill="#4191c8"/>
<rect x="66.25" y="530.87" width="1.84" height="1.84" fill="#d1e5f0"/>
<rect x="77.05" y="531.03" width="1.50" height="1.50" fill="#d1e5f0"/>
<rect x="85.52" y="528.87" width="5.82" height="5.82" fill="#92c5de"/>
<rect x="97.22" y="529.94" width="3.68" height="3.68" fill="#d1e5f0"/>
<rect x="106.78" y="528.87" width="5.82" height="5.82" fill="#92c5de"/>
<rect x="118.92" y="530.38" width="2.81" height="2.81" fill="#fddbc7"/>
<rect x="128.14" y="528.97" width="5.62" height="5.62" fill="#f4a582"/>
<rect x="140.18" y="530.38" width="2.81" height="2.81" fill="#d1e5f0"/>
<rect x="149.30" y="528.87" width="5.82" height="5.82" fill="#92c5de"/>
<rect x="162.09" y="531.03" width="1.50" height="1.50" fill="#fddbc7"/>
<rect x="172.55" y="530.87" width="1.84" height="1.84" fill="#d1e5f0"/>
<rect x="183.18" y="530.87" width="1.84" height="1.84" fill="#d1e5f0"/>
<rect x="193.43" y="530.48" width="2.60" height="2.60" fill="#d1e5f0"/>
<rect x="200.42" y="526.84" width="9.89" height="9.89" fill="#1c386e"/>
<rect x="211.42" y="527.22" width="9.14" height="9.14" fill="#2166ae"/>
<rect x="225.44" y="530.60" width="2.38" height="2.38" fill="#d1e5f0"/>
<rect x="235.75" y="530.28" width="3.01" height="3.01" fill="#fddbc7"/>
<rect x="247.13" y="531.03" width="1.50" height="1.50" fill="#d1e5f0"/>
<rect x="256.60" y="529.87" width="3.83" height="3.83" fill="#fddbc7"/>
<rect x="267.30" y="529.94" width="3.68" height="3.68" fill="#fddbc7"/>
<rect x="277.86" y="529.87" width="3.83" height="3.83" fill="#fddbc7"/>
<rect x="43.00" y="539.49" width="5.82" height="5.82" fill="#92c5de"/>
<rect x="53.40" y="539.25" width="6.29" height="6.29" fill="#92c5de"/>
<rect x="65.99" y="541.21" width="2.38" height="2.38" fill="#fddbc7"/>
<rect x="77.05" y="541.65" width="1.50" height="1.50" fill="#fddbc7"/>
<rect x="85.16" y="539.12" width="6.55" height="6.55" fill="#92c5de"/>
<rect x="97.15" y="540.48" width="3.83" height="3.83" fill="#d1e5f0"/>
<rect x="107.50" y="540.21" width="4.38" height="4.38" fill="#d1e5f0"/>
<rect x="118.82" y="540.89" width="3.01" height="3.01" fill="#d1e5f0"/>
<rect x="129.77" y="541.21" width="2.38" height="2.38" fill="#d1e5f0"/>
<rect x="138.82" y="539.64" width="5.52" height="5.52" fill="#92c5de"/>
<rect x="149.07" y="539.25" width="6.29" height="6.29" fill="#92c5de"/>
<rect x="161.16" y="540.72" width="3.36" height="3.36" fill="#fddbc7"/>
<rect x="172.72" y="541.65" width="1.50" height="1.50" fill="#d1e5f0"/>
<rect x="182.92" y="541.21" width="2.38" height="2.38" fill="#d1e5f0"/>
<rect x="191.97" y="539.64" width="5.52" height="5.52" fill="#92c5de"/>
<rect x="200.79" y="537.83" width="9.14" height="9.14" fill="#2166ae"/>
<rect x="211.05" y="537.46" width="9.89" height="9.89" fill="#1c386e"/>
<rect x="225.70" y="541.48" width="1.84" height="1.84" fill="#d1e5f0"/>
<rect x="235.95" y="541.10" width="2.60" height="2.60" fill="#fddbc7"/>
<rect x="247.35" y="541.87" width="1.06" height="1.06" fill="#d1e5f0"/>
<rect x="257.59" y="541.48" width="1.84" height="1.84" fill="#d1e5f0"/>
<rect x="267.96" y="541.21" width="2.38" height="2.38" fill="#d1e5f0"/>
<rect x="278.59" y="541.21" width="2.38" height="2.38" fill="#d1e5f0"/>
<rect x="44.23" y="551.33" width="3.36" height="3.36" fill="#d1e5f0"/>
<rect x="54.86" y="551.33" width="3.36" height="3.36" fill="#d1e5f0"/>
<rect x="64.36" y="550.20" width="5.62" height="5.62" fill="#92c5de"/>
<rect x="75.61" y="550.82" width="4.38" height="4.38" fill="#d1e5f0"/>
<rect x="85.62" y="550.20" width="5.62" height="5.62" fill="#92c5de"/>
<rect x="96.15" y="550.10" width="5.82" height="5.82" fill="#92c5de"/>
<rect x="107.50" y="550.82" width="4.38" height="4.38" fill="#d1e5f0"/>
<rect x="119.14" y="551.82" width="2.38" height="2.38" fill="#fddbc7"/>
<rect x="129.04" y="551.09" width="3.83" height="3.83" fill="#fddbc7"/>
<rect x="139.60" y="551.02" width="3.98" height="3.98" fill="#fddbc7"/>
<rect x="150.30" y="551.09" width="3.83" height="3.83" fill="#d1e5f0"/>
<rect x="161.66" y="551.82" width="2.38" height="2.38" fill="#d1e5f0"/>
<rect x="172.72" y="552.26" width="1.50" height="1.50" fill="#d1e5f0"/>
<rect x="183.57" y="552.48" width="1.06" height="1.06" fill="#d1e5f0"/>
<rect x="193.05" y="551.33" width="3.36" height="3.36" fill="#fddbc7"/>
<rect x="204.18" y="551.82" width="2.38" height="2.38" fill="#d1e5f0"/>
<rect x="215.07" y="552.09" width="1.84" height="1.84" fill="#d1e5f0"/>
<rect x="221.68" y="548.07" width="9.89" height="9.89" fill="#1c386e"/>
<rect x="232.31" y="548.07" width="9.89" height="9.89" fill="#1c386e"/>
<rect x="243.47" y="548.60" width="8.82" height="8.82" fill="#4191c8"/>
<rect x="256.46" y="550.95" width="4.12" height="4.12" fill="#d1e5f0"/>
<rect x="266.49" y="550.35" width="5.32" height="5.32" fill="#92c5de"/>
<rect x="277.12" y="550.35" width="5.32" height="5.32" fill="#92c5de"/>
<rect x="44.99" y="562.70" width="1.84" height="1.84" fill="#d1e5f0"/>
<rect x="55.62" y="562.70" width="1.84" height="1.84" fill="#d1e5f0"/>
<rect x="65.12" y="561.56" width="4.12" height="4.12" fill="#d1e5f0"/>
<rect x="75.49" y="561.31" width="4.63" height="4.63" fill="#d1e5f0"/>
<rect x="86.38" y="561.56" width="4.12" height="4.12" fill="#d1e5f0"/>
<rect x="96.06" y="560.62" width="6.01" height="6.01" fill="#92c5de"/>
<rect x="107.64" y="561.56" width="4.12" height="4.12" fill="#d1e5f0"/>
<rect x="119.02" y="562.32" width="2.60" height="2.60" fill="#fddbc7"/>
<rect x="129.45" y="562.12" width="3.01" height="3.01" fill="#fddbc7"/>
<rect x="139.39" y="561.43" width="4.38" height="4.38" fill="#fddbc7"/>
<rect x="150.23" y="561.63" width="3.98" height="3.98" fill="#d1e5f0"/>
<rect x="161.34" y="562.12" width="3.01" height="3.01" fill="#fddbc7"/>
<rect x="172.72" y="562.87" width="1.50" height="1.50" fill="#d1e5f0"/>
<rect x="183.57" y="563.09" width="1.06" height="1.06" fill="#d1e5f0"/>
<rect x="192.82" y="561.71" width="3.83" height="3.83" fill="#fddbc7"/>
<rect x="203.86" y="562.12" width="3.01" height="3.01" fill="#fddbc7"/>
<rect x="214.69" y="562.32" width="2.60" height="2.60" fill="#fddbc7"/>
<rect x="221.68" y="558.68" width="9.89" height="9.89" fill="#1c386e"/>
<rect x="232.31" y="558.68" width="9.89" height="9.89" fill="#1c386e"/>
<rect x="243.47" y="559.21" width="8.82" height="8.82" fill="#4191c8"/>
<rect x="255.60" y="560.71" width="5.82" height="5.82" fill="#92c5de"/>
<rect x="266.23" y="560.71" width="5.82" height="5.82" fill="#92c5de"/>
<rect x="276.86" y="560.71" width="5.82" height="5.82" fill="#92c5de"/>
<rect x="44.00" y="572.32" width="3.83" height="3.83" fill="#d1e5f0"/>
<rect x="54.56" y="572.25" width="3.98" height="3.98" fill="#d1e5f0"/>
<rect x="65.26" y="572.32" width="3.83" height="3.83" fill="#d1e5f0"/>
<rect x="75.68" y="572.11" width="4.25" height="4.25" fill="#d1e5f0"/>
<rect x="85.67" y="571.47" width="5.52" height="5.52" fill="#92c5de"/>
<rect x="96.15" y="571.32" width="5.82" height="5.82" fill="#92c5de"/>
<rect x="107.78" y="572.32" width="3.83" height="3.83" fill="#d1e5f0"/>
<rect x="119.40" y="573.31" width="1.84" height="1.84" fill="#d1e5f0"/>
<rect x="129.27" y="572.55" width="3.36" height="3.36" fill="#d1e5f0"/>
<rect x="139.67" y="572.32" width="3.83" height="3.83" fill="#fddbc7"/>
<rect x="150.53" y="572.55" width="3.36" height="3.36" fill="#d1e5f0"/>
<rect x="162.09" y="573.48" width="1.50" height="1.50" fill="#d1e5f0"/>
<rect x="171.56" y="572.32" width="3.83" height="3.83" fill="#d1e5f0"/>
<rect x="182.19" y="572.32" width="3.83" height="3.83" fill="#d1e5f0"/>
<rect x="193.05" y="572.55" width="3.36" height="3.36" fill="#fddbc7"/>
<rect x="204.61" y="573.48" width="1.50" height="1.50" fill="#d1e5f0"/>
<rect x="215.46" y="573.70" width="1.06" height="1.06" fill="#d1e5f0"/>
<rect x="222.21" y="569.82" width="8.82" height="8.82" fill="#4191c8"/>
<rect x="232.84" y="569.82" width="8.82" height="8.82" fill="#4191c8"/>
<rect x="242.94" y="569.29" width="9.89" height="9.89" fill="#1c386e"/>
<rect x="255.80" y="571.52" width="5.42" height="5.42" fill="#92c5de"/>
<rect x="266.43" y="571.52" width="5.42" height="5.42" fill="#92c5de"/>
<rect x="277.06" y="571.52" width="5.42" height="5.42" fill="#92c5de"/>
<rect x="45.16" y="584.09" width="1.50" height="1.50" fill="#d1e5f0"/>
<rect x="55.79" y="584.09" width="1.50" height="1.50" fill="#d1e5f0"/>
<rect x="65.12" y="582.79" width="4.12" height="4.12" fill="#d1e5f0"/>
<rect x="75.55" y="582.59" width="4.51" height="4.51" fill="#d1e5f0"/>
<rect x="86.93" y="583.34" width="3.01" height="3.01" fill="#d1e5f0"/>
<rect x="97.08" y="582.86" width="3.98" height="3.98" fill="#d1e5f0"/>
<rect x="108.29" y="583.44" width="2.81" height="2.81" fill="#fddbc7"/>
<rect x="119.40" y="583.93" width="1.84" height="1.84" fill="#fddbc7"/>
<rect x="129.27" y="583.17" width="3.36" height="3.36" fill="#d1e5f0"/>
<rect x="139.67" y="582.93" width="3.83" height="3.83" fill="#fddbc7"/>
<rect x="151.15" y="583.78" width="2.13" height="2.13" fill="#fddbc7"/>
<rect x="161.66" y="583.66" width="2.38" height="2.38" fill="#d1e5f0"/>
<rect x="170.33" y="581.70" width="6.29" height="6.29" fill="#92c5de"/>
<rect x="180.92" y="581.66" width="6.38" height="6.38" fill="#92c5de"/>
<rect x="192.82" y="582.93" width="3.83" height="3.83" fill="#fddbc7"/>
<rect x="203.45" y="582.93" width="3.83" height="3.83" fill="#fddbc7"/>
<rect x="215.07" y="583.93" width="1.84" height="1.84" fill="#d1e5f0"/>
<rect x="224.57" y="582.79" width="4.12" height="4.12" fill="#d1e5f0"/>
<rect x="234.34" y="581.93" width="5.82" height="5.82" fill="#92c5de"/>
<rect x="245.17" y="582.14" width="5.42" height="5.42" fill="#92c5de"/>
<rect x="253.57" y="579.90" width="9.89" height="9.89" fill="#1c386e"/>
<rect x="264.20" y="579.90" width="9.89" height="9.89" fill="#1c386e"/>
<rect x="275.04" y="580.12" width="9.46" height="9.46" fill="#2166ae"/>
<rect x="44.99" y="594.54" width="1.84" height="1.84" fill="#d1e5f0"/>
<rect x="55.36" y="594.27" width="2.38" height="2.38" fill="#d1e5f0"/>
<rect x="65.19" y="593.47" width="3.98" height="3.98" fill="#d1e5f0"/>
<rect x="74.99" y="592.65" width="5.62" height="5.62" fill="#92c5de"/>
<rect x="86.31" y="593.33" width="4.25" height="4.25" fill="#d1e5f0"/>
<rect x="96.30" y="592.70" width="5.52" height="5.52" fill="#92c5de"/>
<rect x="108.94" y="594.71" width="1.50" height="1.50" fill="#fddbc7"/>
<rect x="119.79" y="594.93" width="1.06" height="1.06" fill="#fddbc7"/>
<rect x="129.27" y="593.78" width="3.36" height="3.36" fill="#d1e5f0"/>
<rect x="139.67" y="593.54" width="3.83" height="3.83" fill="#fddbc7"/>
<rect x="151.46" y="594.71" width="1.50" height="1.50" fill="#fddbc7"/>
<rect x="161.66" y="594.27" width="2.38" height="2.38" fill="#d1e5f0"/>
<rect x="170.33" y="592.31" width="6.29" height="6.29" fill="#92c5de"/>
<rect x="180.92" y="592.27" width="6.38" height="6.38" fill="#92c5de"/>
<rect x="193.05" y="593.78" width="3.36" height="3.36" fill="#fddbc7"/>
<rect x="203.52" y="593.62" width="3.68" height="3.68" fill="#fddbc7"/>
<rect x="214.81" y="594.27" width="2.38" height="2.38" fill="#d1e5f0"/>
<rect x="223.97" y="592.80" width="5.32" height="5.32" fill="#92c5de"/>
<rect x="234.34" y="592.55" width="5.82" height="5.82" fill="#92c5de"/>
<rect x="245.17" y="592.75" width="5.42" height="5.42" fill="#92c5de"/>
<rect x="253.57" y="590.52" width="9.89" height="9.89" fill="#1c386e"/>
<rect x="264.20" y="590.52" width="9.89" height="9.89" fill="#1c386e"/>
<rect x="274.83" y="590.52" width="9.89" height="9.89" fill="#1c386e"/>
<rect x="44.99" y="605.15" width="1.84" height="1.84" fill="#d1e5f0"/>
<rect x="55.62" y="605.15" width="1.84" height="1.84" fill="#d1e5f0"/>
<rect x="66.42" y="605.32" width="1.50" height="1.50" fill="#d1e5f0"/>
<rect x="76.50" y="604.77" width="2.60" height="2.60" fill="#d1e5f0"/>
<rect x="86.52" y="604.15" width="3.83" height="3.83" fill="#d1e5f0"/>
<rect x="97.22" y="604.23" width="3.68" height="3.68" fill="#d1e5f0"/>
<rect x="107.78" y="604.15" width="3.83" height="3.83" fill="#fddbc7"/>
<rect x="119.57" y="605.32" width="1.50" height="1.50" fill="#d1e5f0"/>
<rect x="129.77" y="604.88" width="2.38" height="2.38" fill="#d1e5f0"/>
<rect x="139.90" y="604.39" width="3.36" height="3.36" fill="#fddbc7"/>
<rect x="151.68" y="605.54" width="1.06" height="1.06" fill="#d1e5f0"/>
<rect x="161.66" y="604.88" width="2.38" height="2.38" fill="#d1e5f0"/>
<rect x="170.47" y="603.06" width="6.01" height="6.01" fill="#92c5de"/>
<rect x="181.10" y="603.06" width="6.01" height="6.01" fill="#92c5de"/>
<rect x="193.55" y="604.88" width="2.38" height="2.38" fill="#fddbc7"/>
<rect x="203.45" y="604.15" width="3.83" height="3.83" fill="#fddbc7"/>
<rect x="214.81" y="604.88" width="2.38" height="2.38" fill="#d1e5f0"/>
<rect x="223.97" y="603.41" width="5.32" height="5.32" fill="#92c5de"/>
<rect x="234.34" y="603.16" width="5.82" height="5.82" fill="#92c5de"/>
<rect x="245.17" y="603.36" width="5.42" height="5.42" fill="#92c5de"/>
<rect x="253.78" y="601.34" width="9.46" height="9.46" fill="#2166ae"/>
<rect x="264.20" y="601.13" width="9.89" height="9.89" fill="#1c386e"/>
<rect x="274.83" y="601.13" width="9.89" height="9.89" fill="#1c386e"/>
<rect x="40.60" y="367.30" width="21.26" height="21.22" fill="none" stroke="#783e9c" stroke-width="1.45"/>
<rect x="61.86" y="388.52" width="21.26" height="21.22" fill="none" stroke="#783e9c" stroke-width="1.45"/>
<rect x="83.12" y="409.75" width="31.89" height="31.84" fill="none" stroke="#783e9c" stroke-width="1.45"/>
<rect x="115.01" y="441.58" width="21.26" height="21.22" fill="none" stroke="#783e9c" stroke-width="1.45"/>
<rect x="136.27" y="462.81" width="21.26" height="21.22" fill="none" stroke="#783e9c" stroke-width="1.45"/>
<rect x="157.53" y="484.03" width="31.89" height="31.84" fill="none" stroke="#783e9c" stroke-width="1.45"/>
<rect x="189.42" y="515.87" width="31.89" height="31.84" fill="none" stroke="#783e9c" stroke-width="1.45"/>
<rect x="221.31" y="547.70" width="31.89" height="31.84" fill="none" stroke="#783e9c" stroke-width="1.45"/>
<rect x="253.20" y="579.54" width="31.89" height="31.84" fill="none" stroke="#783e9c" stroke-width="1.45"/>
<text x="18.20" y="380.00" font-size="8.5" text-anchor="end" fill="#1c1c1c" stroke="#1c1c1c" stroke-width="0.25">54</text>
<line x1="23.05" x2="23.05" y1="369.70" y2="382.50" stroke="#222" stroke-width="1.1"/>
<text x="32.70" y="374.00" font-size="8.5" text-anchor="middle" fill="#1c1c1c" stroke="#1c1c1c" stroke-width="0.25">P</text>
<text x="32.70" y="385.00" font-size="8.5" text-anchor="middle" fill="#1c1c1c" stroke="#1c1c1c" stroke-width="0.25">O</text>
<text x="18.20" y="401.00" font-size="8.5" text-anchor="end" fill="#1c1c1c" stroke="#1c1c1c" stroke-width="0.25">4056</text>
<line x1="23.05" x2="23.05" y1="388.30" y2="406.50" stroke="#222" stroke-width="1.1"/>
<text x="32.70" y="396.00" font-size="8.5" text-anchor="middle" fill="#1c1c1c" stroke="#1c1c1c" stroke-width="0.25">X</text>
<text x="32.70" y="407.00" font-size="8.5" text-anchor="middle" fill="#1c1c1c" stroke="#1c1c1c" stroke-width="0.25">O</text>
<text x="18.20" y="429.00" font-size="8.5" text-anchor="end" fill="#1c1c1c" stroke="#1c1c1c" stroke-width="0.25">426</text>
<line x1="23.05" x2="23.05" y1="411.30" y2="438.60" stroke="#222" stroke-width="1.1"/>
<text x="32.70" y="417.00" font-size="8.5" text-anchor="middle" fill="#1c1c1c" stroke="#1c1c1c" stroke-width="0.25">P</text>
<text x="32.70" y="428.00" font-size="8.5" text-anchor="middle" fill="#1c1c1c" stroke="#1c1c1c" stroke-width="0.25">X</text>
<text x="32.70" y="439.00" font-size="8.5" text-anchor="middle" fill="#1c1c1c" stroke="#1c1c1c" stroke-width="0.25">O</text>
<text x="18.20" y="456.00" font-size="8.5" text-anchor="end" fill="#1c1c1c" stroke="#1c1c1c" stroke-width="0.25">126</text>
<line x1="23.05" x2="23.05" y1="443.80" y2="458.70" stroke="#222" stroke-width="1.1"/>
<text x="32.70" y="450.00" font-size="8.5" text-anchor="middle" fill="#1c1c1c" stroke="#1c1c1c" stroke-width="0.25">P</text>
<text x="32.70" y="461.00" font-size="8.5" text-anchor="middle" fill="#1c1c1c" stroke="#1c1c1c" stroke-width="0.25">O</text>
<text x="18.20" y="477.00" font-size="8.5" text-anchor="end" fill="#1c1c1c" stroke="#1c1c1c" stroke-width="0.25">85</text>
<line x1="23.05" x2="23.05" y1="465.70" y2="480.80" stroke="#222" stroke-width="1.1"/>
<text x="32.70" y="471.00" font-size="8.5" text-anchor="middle" fill="#1c1c1c" stroke="#1c1c1c" stroke-width="0.25">P</text>
<text x="32.70" y="482.00" font-size="8.5" text-anchor="middle" fill="#1c1c1c" stroke="#1c1c1c" stroke-width="0.25">O</text>
<text x="18.20" y="504.00" font-size="8.5" text-anchor="end" fill="#1c1c1c" stroke="#1c1c1c" stroke-width="0.25">137</text>
<line x1="23.05" x2="23.05" y1="486.80" y2="514.90" stroke="#222" stroke-width="1.1"/>
<text x="32.70" y="493.00" font-size="8.5" text-anchor="middle" fill="#1c1c1c" stroke="#1c1c1c" stroke-width="0.25">P</text>
<text x="32.70" y="504.00" font-size="8.5" text-anchor="middle" fill="#1c1c1c" stroke="#1c1c1c" stroke-width="0.25">X</text>
<text x="32.70" y="514.00" font-size="8.5" text-anchor="middle" fill="#1c1c1c" stroke="#1c1c1c" stroke-width="0.25">O</text>
<text x="18.20" y="533.00" font-size="8.5" text-anchor="end" fill="#1c1c1c" stroke="#1c1c1c" stroke-width="0.25">344</text>
<line x1="23.05" x2="23.05" y1="519.90" y2="547.10" stroke="#222" stroke-width="1.1"/>
<text x="32.70" y="525.00" font-size="8.5" text-anchor="middle" fill="#1c1c1c" stroke="#1c1c1c" stroke-width="0.25">P</text>
<text x="32.70" y="536.00" font-size="8.5" text-anchor="middle" fill="#1c1c1c" stroke="#1c1c1c" stroke-width="0.25">X</text>
<text x="32.70" y="547.00" font-size="8.5" text-anchor="middle" fill="#1c1c1c" stroke="#1c1c1c" stroke-width="0.25">O</text>
<text x="18.20" y="567.00" font-size="8.5" text-anchor="end" fill="#1c1c1c" stroke="#1c1c1c" stroke-width="0.25">274</text>
<line x1="23.05" x2="23.05" y1="552.30" y2="579.20" stroke="#222" stroke-width="1.1"/>
<text x="32.70" y="557.00" font-size="8.5" text-anchor="middle" fill="#1c1c1c" stroke="#1c1c1c" stroke-width="0.25">P</text>
<text x="32.70" y="568.00" font-size="8.5" text-anchor="middle" fill="#1c1c1c" stroke="#1c1c1c" stroke-width="0.25">X</text>
<text x="32.70" y="579.00" font-size="8.5" text-anchor="middle" fill="#1c1c1c" stroke="#1c1c1c" stroke-width="0.25">O</text>
<text x="18.20" y="599.00" font-size="8.5" text-anchor="end" fill="#1c1c1c" stroke="#1c1c1c" stroke-width="0.25">149</text>
<line x1="23.05" x2="23.05" y1="583.80" y2="604.30" stroke="#222" stroke-width="1.1"/>
<text x="32.70" y="590.00" font-size="8.5" text-anchor="middle" fill="#1c1c1c" stroke="#1c1c1c" stroke-width="0.25">P</text>
<text x="32.70" y="600.00" font-size="8.5" text-anchor="middle" fill="#1c1c1c" stroke="#1c1c1c" stroke-width="0.25">X</text>
<text x="32.70" y="611.00" font-size="8.5" text-anchor="middle" fill="#1c1c1c" stroke="#1c1c1c" stroke-width="0.25">O</text>
<text x="45.91" y="621.00" font-size="8.5" text-anchor="middle" fill="#1c1c1c" stroke="#1c1c1c" stroke-width="0.25">P</text>
<text x="56.55" y="621.00" font-size="8.5" text-anchor="middle" fill="#1c1c1c" stroke="#1c1c1c" stroke-width="0.25">O</text>
<line x1="43.31" x2="56.25" y1="625.2" y2="625.2" stroke="#222" stroke-width="1.1"/>
<text x="46.83" y="627.20" font-size="8.5" fill="#1c1c1c" stroke="#1c1c1c" stroke-width="0.25" transform="rotate(90 46.83 627.20)">54</text>
<text x="67.18" y="621.00" font-size="8.5" text-anchor="middle" fill="#1c1c1c" stroke="#1c1c1c" stroke-width="0.25">X</text>
<text x="77.81" y="621.00" font-size="8.5" text-anchor="middle" fill="#1c1c1c" stroke="#1c1c1c" stroke-width="0.25">O</text>
<line x1="64.58" x2="77.51" y1="625.2" y2="625.2" stroke="#222" stroke-width="1.1"/>
<text x="67.92" y="627.20" font-size="8.5" fill="#1c1c1c" stroke="#1c1c1c" stroke-width="0.25" transform="rotate(90 67.92 627.20)">4056</text>
<text x="88.44" y="621.00" font-size="8.5" text-anchor="middle" fill="#1c1c1c" stroke="#1c1c1c" stroke-width="0.25">P</text>
<text x="99.06" y="621.00" font-size="8.5" text-anchor="middle" fill="#1c1c1c" stroke="#1c1c1c" stroke-width="0.25">X</text>
<text x="109.69" y="621.00" font-size="8.5" text-anchor="middle" fill="#1c1c1c" stroke="#1c1c1c" stroke-width="0.25">O</text>
<line x1="85.84" x2="112.19" y1="625.2" y2="625.2" stroke="#222" stroke-width="1.1"/>
<text x="96.42" y="627.20" font-size="8.5" fill="#1c1c1c" stroke="#1c1c1c" stroke-width="0.25" transform="rotate(90 96.42 627.20)">426</text>
<text x="120.33" y="621.00" font-size="8.5" text-anchor="middle" fill="#1c1c1c" stroke="#1c1c1c" stroke-width="0.25">P</text>
<text x="130.96" y="621.00" font-size="8.5" text-anchor="middle" fill="#1c1c1c" stroke="#1c1c1c" stroke-width="0.25">O</text>
<line x1="117.73" x2="130.66" y1="625.2" y2="625.2" stroke="#222" stroke-width="1.1"/>
<text x="121.62" y="627.20" font-size="8.5" fill="#1c1c1c" stroke="#1c1c1c" stroke-width="0.25" transform="rotate(90 121.62 627.20)">126</text>
<text x="141.59" y="621.00" font-size="8.5" text-anchor="middle" fill="#1c1c1c" stroke="#1c1c1c" stroke-width="0.25">P</text>
<text x="152.22" y="621.00" font-size="8.5" text-anchor="middle" fill="#1c1c1c" stroke="#1c1c1c" stroke-width="0.25">O</text>
<line x1="138.99" x2="151.91" y1="625.2" y2="625.2" stroke="#222" stroke-width="1.1"/>
<text x="142.72" y="627.20" font-size="8.5" fill="#1c1c1c" stroke="#1c1c1c" stroke-width="0.25" transform="rotate(90 142.72 627.20)">85</text>
<text x="162.84" y="621.00" font-size="8.5" text-anchor="middle" fill="#1c1c1c" stroke="#1c1c1c" stroke-width="0.25">P</text>
<text x="173.47" y="621.00" font-size="8.5" text-anchor="middle" fill="#1c1c1c" stroke="#1c1c1c" stroke-width="0.25">X</text>
<text x="184.11" y="621.00" font-size="8.5" text-anchor="middle" fill="#1c1c1c" stroke="#1c1c1c" stroke-width="0.25">O</text>
<line x1="160.25" x2="186.61" y1="625.2" y2="625.2" stroke="#222" stroke-width="1.1"/>
<text x="171.62" y="627.20" font-size="8.5" fill="#1c1c1c" stroke="#1c1c1c" stroke-width="0.25" transform="rotate(90 171.62 627.20)">137</text>
<text x="194.74" y="621.00" font-size="8.5" text-anchor="middle" fill="#1c1c1c" stroke="#1c1c1c" stroke-width="0.25">P</text>
<text x="205.37" y="621.00" font-size="8.5" text-anchor="middle" fill="#1c1c1c" stroke="#1c1c1c" stroke-width="0.25">X</text>
<text x="216.00" y="621.00" font-size="8.5" text-anchor="middle" fill="#1c1c1c" stroke="#1c1c1c" stroke-width="0.25">O</text>
<line x1="192.14" x2="218.50" y1="625.2" y2="625.2" stroke="#222" stroke-width="1.1"/>
<text x="205.03" y="627.20" font-size="8.5" fill="#1c1c1c" stroke="#1c1c1c" stroke-width="0.25" transform="rotate(90 205.03 627.20)">344</text>
<text x="226.62" y="621.00" font-size="8.5" text-anchor="middle" fill="#1c1c1c" stroke="#1c1c1c" stroke-width="0.25">P</text>
<text x="237.25" y="621.00" font-size="8.5" text-anchor="middle" fill="#1c1c1c" stroke="#1c1c1c" stroke-width="0.25">X</text>
<text x="247.89" y="621.00" font-size="8.5" text-anchor="middle" fill="#1c1c1c" stroke="#1c1c1c" stroke-width="0.25">O</text>
<line x1="224.03" x2="250.39" y1="625.2" y2="625.2" stroke="#222" stroke-width="1.1"/>
<text x="237.62" y="627.20" font-size="8.5" fill="#1c1c1c" stroke="#1c1c1c" stroke-width="0.25" transform="rotate(90 237.62 627.20)">274</text>
<text x="258.52" y="621.00" font-size="8.5" text-anchor="middle" fill="#1c1c1c" stroke="#1c1c1c" stroke-width="0.25">P</text>
<text x="269.15" y="621.00" font-size="8.5" text-anchor="middle" fill="#1c1c1c" stroke="#1c1c1c" stroke-width="0.25">X</text>
<text x="279.78" y="621.00" font-size="8.5" text-anchor="middle" fill="#1c1c1c" stroke="#1c1c1c" stroke-width="0.25">O</text>
<line x1="255.92" x2="282.28" y1="625.2" y2="625.2" stroke="#222" stroke-width="1.1"/>
<text x="265.43" y="627.20" font-size="8.5" fill="#1c1c1c" stroke="#1c1c1c" stroke-width="0.25" transform="rotate(90 265.43 627.20)">149</text>
<rect x="289.2" y="368.40" width="9.8" height="24.51" fill="#1c386e"/>
<rect x="289.2" y="392.71" width="9.8" height="24.51" fill="#2166ae"/>
<rect x="289.2" y="417.02" width="9.8" height="24.51" fill="#4191c8"/>
<rect x="289.2" y="441.33" width="9.8" height="24.51" fill="#92c5de"/>
<rect x="289.2" y="465.64" width="9.8" height="24.51" fill="#d1e5f0"/>
<rect x="289.2" y="489.95" width="9.8" height="24.51" fill="#fddbc7"/>
<rect x="289.2" y="514.26" width="9.8" height="24.51" fill="#f4a582"/>
<rect x="289.2" y="538.57" width="9.8" height="24.51" fill="#d6604d"/>
<rect x="289.2" y="562.88" width="9.8" height="24.51" fill="#b2182b"/>
<rect x="289.2" y="587.19" width="9.8" height="24.51" fill="#67001f"/>
<rect x="289.2" y="368.4" width="9.8" height="243.10" fill="none" stroke="#333" stroke-width="0.6"/>
<line x1="299.0" x2="300.8" y1="368.40" y2="368.40" stroke="#333" stroke-width="0.6"/>
<text x="302.40" y="371.00" font-size="8.8" fill="#1c1c1c" stroke="#1c1c1c" stroke-width="0.25">1</text>
<line x1="299.0" x2="300.8" y1="392.71" y2="392.71" stroke="#333" stroke-width="0.6"/>
<text x="302.40" y="395.00" font-size="8.8" fill="#1c1c1c" stroke="#1c1c1c" stroke-width="0.25">0.8</text>
<line x1="299.0" x2="300.8" y1="417.02" y2="417.02" stroke="#333" stroke-width="0.6"/>
<text x="302.40" y="420.00" font-size="8.8" fill="#1c1c1c" stroke="#1c1c1c" stroke-width="0.25">0.6</text>
<line x1="299.0" x2="300.8" y1="441.33" y2="441.33" stroke="#333" stroke-width="0.6"/>
<text x="302.40" y="444.00" font-size="8.8" fill="#1c1c1c" stroke="#1c1c1c" stroke-width="0.25">0.4</text>
<line x1="299.0" x2="300.8" y1="465.64" y2="465.64" stroke="#333" stroke-width="0.6"/>
<text x="302.40" y="468.00" font-size="8.8" fill="#1c1c1c" stroke="#1c1c1c" stroke-width="0.25">0.2</text>
<line x1="299.0" x2="300.8" y1="489.95" y2="489.95" stroke="#333" stroke-width="0.6"/>
<text x="302.40" y="492.00" font-size="8.8" fill="#1c1c1c" stroke="#1c1c1c" stroke-width="0.25">0</text>
<line x1="299.0" x2="300.8" y1="514.26" y2="514.26" stroke="#333" stroke-width="0.6"/>
<text x="302.40" y="517.00" font-size="8.8" fill="#1c1c1c" stroke="#1c1c1c" stroke-width="0.25">−0.2</text>
<line x1="299.0" x2="300.8" y1="538.57" y2="538.57" stroke="#333" stroke-width="0.6"/>
<text x="302.40" y="541.00" font-size="8.8" fill="#1c1c1c" stroke="#1c1c1c" stroke-width="0.25">−0.4</text>
<line x1="299.0" x2="300.8" y1="562.88" y2="562.88" stroke="#333" stroke-width="0.6"/>
<text x="302.40" y="565.00" font-size="8.8" fill="#1c1c1c" stroke="#1c1c1c" stroke-width="0.25">−0.6</text>
<line x1="299.0" x2="300.8" y1="587.19" y2="587.19" stroke="#333" stroke-width="0.6"/>
<text x="302.40" y="590.00" font-size="8.8" fill="#1c1c1c" stroke="#1c1c1c" stroke-width="0.25">−0.8</text>
<line x1="299.0" x2="300.8" y1="611.50" y2="611.50" stroke="#333" stroke-width="0.6"/>
<text x="302.40" y="614.00" font-size="8.8" fill="#1c1c1c" stroke="#1c1c1c" stroke-width="0.25">−1</text>
<text x="329.90" y="366.00" font-size="13.2" font-weight="bold" fill="#111" stroke="#111" stroke-width="0.15">C</text>
<text x="333.20" y="383.00" font-size="10.06" fill="#1c1c1c" stroke="#1c1c1c" stroke-width="0.12">Gene expression correlation among</text>
<text x="338.60" y="396.00" font-size="10.1" fill="#1c1c1c" stroke="#1c1c1c" stroke-width="0.12">patient tumor, PDX and organoids</text>
<rect x="333.6" y="402.5" width="160.50" height="160.00" fill="#fff"/>
<path d="M333.6 402.5V562.5M387.2 402.5V562.5M440.5 402.5V562.5M494.1 402.5V562.5M333.6 402.5H494.1M333.6 456.1H494.1M333.6 509.4H494.1M333.6 562.5H494.1" stroke="#cfcfcf" stroke-width="0.9" fill="none"/>
<text x="360.60" y="434.00" font-size="10" text-anchor="middle" fill="#c9303e" stroke="#c9303e" stroke-width="0.05">Patient</text>
<text x="412.90" y="487.00" font-size="10" text-anchor="middle" fill="#c9303e" stroke="#c9303e" stroke-width="0.05">PDX</text>
<text x="467.10" y="540.00" font-size="10" text-anchor="middle" fill="#c9303e" stroke="#c9303e" stroke-width="0.05">Organoid</text>
<circle cx="413.7" cy="428.8" r="20" fill="#2f7dbd" stroke="#2a6fa8" stroke-width="0.5"/>
<circle cx="467.4" cy="429" r="18.6" fill="#3f8cc6" stroke="#387fb5" stroke-width="0.5"/>
<circle cx="467.5" cy="482.3" r="21.6" fill="#2365ab" stroke="#1f5a9a" stroke-width="0.5"/>
<text x="360.00" y="480.00" font-size="10" text-anchor="middle" fill="#4d88b3" stroke="#4d88b3" stroke-width="0.05">0.66</text>
<text x="360.00" y="493.00" font-size="10" text-anchor="middle" fill="#4d88b3" stroke="#4d88b3" stroke-width="0.05">[0.57,0.75]</text>
<text x="360.00" y="535.00" font-size="10" text-anchor="middle" fill="#6ea3c8" stroke="#6ea3c8" stroke-width="0.05">0.59</text>
<text x="360.00" y="548.00" font-size="10" text-anchor="middle" fill="#6ea3c8" stroke="#6ea3c8" stroke-width="0.05">[0.54,0.64]</text>
<text x="413.50" y="535.00" font-size="10.7" text-anchor="middle" fill="#2c5f92" stroke="#2c5f92" stroke-width="0.05">0.8</text>
<text x="413.50" y="547.00" font-size="10.7" text-anchor="middle" fill="#2c5f92" stroke="#2c5f92" stroke-width="0.05">[0.75,0.85]</text>
<rect x="496.4" y="403" width="4.8" height="160" fill="url(#gc)"/>
<line x1="501.2" x2="502.4" y1="403.50" y2="403.50" stroke="#777" stroke-width="0.5"/>
<text x="503.20" y="406.00" font-size="8.5" fill="#1c1c1c" stroke="#1c1c1c" stroke-width="0.25">1</text>
<line x1="501.2" x2="502.4" y1="419.21" y2="419.21" stroke="#777" stroke-width="0.5"/>
<text x="503.20" y="422.00" font-size="8.5" fill="#1c1c1c" stroke="#1c1c1c" stroke-width="0.25">0.8</text>
<line x1="501.2" x2="502.4" y1="434.92" y2="434.92" stroke="#777" stroke-width="0.5"/>
<text x="503.20" y="438.00" font-size="8.5" fill="#1c1c1c" stroke="#1c1c1c" stroke-width="0.25">0.6</text>
<line x1="501.2" x2="502.4" y1="450.63" y2="450.63" stroke="#777" stroke-width="0.5"/>
<text x="503.20" y="454.00" font-size="8.5" fill="#1c1c1c" stroke="#1c1c1c" stroke-width="0.25">0.4</text>
<line x1="501.2" x2="502.4" y1="466.34" y2="466.34" stroke="#777" stroke-width="0.5"/>
<text x="503.20" y="469.00" font-size="8.5" fill="#1c1c1c" stroke="#1c1c1c" stroke-width="0.25">0.2</text>
<line x1="501.2" x2="502.4" y1="482.05" y2="482.05" stroke="#777" stroke-width="0.5"/>
<text x="503.20" y="485.00" font-size="8.5" fill="#1c1c1c" stroke="#1c1c1c" stroke-width="0.25">0</text>
<line x1="501.2" x2="502.4" y1="497.76" y2="497.76" stroke="#777" stroke-width="0.5"/>
<text x="503.20" y="501.00" font-size="8.5" fill="#1c1c1c" stroke="#1c1c1c" stroke-width="0.25">−0.2</text>
<line x1="501.2" x2="502.4" y1="513.47" y2="513.47" stroke="#777" stroke-width="0.5"/>
<text x="503.20" y="516.00" font-size="8.5" fill="#1c1c1c" stroke="#1c1c1c" stroke-width="0.25">−0.4</text>
<line x1="501.2" x2="502.4" y1="529.18" y2="529.18" stroke="#777" stroke-width="0.5"/>
<text x="503.20" y="532.00" font-size="8.5" fill="#1c1c1c" stroke="#1c1c1c" stroke-width="0.25">−0.6</text>
<line x1="501.2" x2="502.4" y1="544.89" y2="544.89" stroke="#777" stroke-width="0.5"/>
<text x="503.20" y="548.00" font-size="8.5" fill="#1c1c1c" stroke="#1c1c1c" stroke-width="0.25">−0.8</text>
<line x1="501.2" x2="502.4" y1="560.60" y2="560.60" stroke="#777" stroke-width="0.5"/>
<text x="503.20" y="564.00" font-size="8.5" fill="#1c1c1c" stroke="#1c1c1c" stroke-width="0.25">−1</text>
</svg>
</body></html>
